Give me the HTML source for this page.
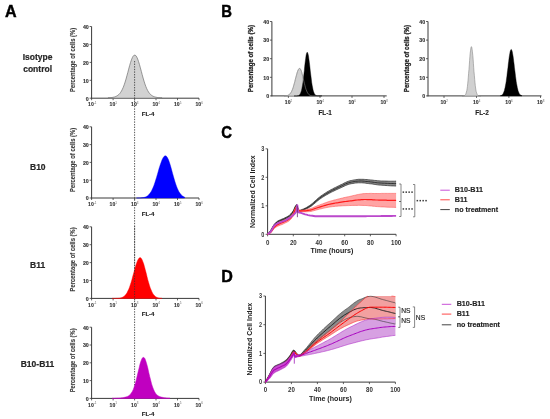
<!DOCTYPE html>
<html><head><meta charset="utf-8"><style>
html,body{margin:0;padding:0;background:#fff;width:550px;height:419px;overflow:hidden}
svg{display:block;will-change:transform}
text{font-family:"Liberation Sans", sans-serif}
</style></head><body>
<svg width="550" height="419" viewBox="0 0 550 419">
<rect x="0" y="0" width="550" height="419" fill="#fff"/>
<text transform="translate(5 17.4) scale(0.93 1)" font-size="17.3" font-weight="bold" fill="#000" stroke="#000" stroke-width="0.45">A</text>
<line x1="91.6" y1="26.5" x2="91.6" y2="98.6" stroke="#3a3a3a" stroke-width="1.0" />
<line x1="91.2" y1="98.2" x2="199" y2="98.2" stroke="#3a3a3a" stroke-width="1.0" />
<line x1="89.6" y1="98.2" x2="91.6" y2="98.2" stroke="#3a3a3a" stroke-width="0.8" />
<text x="88.8" y="100.5" font-size="5.3" font-weight="bold" text-anchor="end" fill="#333" stroke="#333" stroke-width="0.12">0</text>
<line x1="89.6" y1="80.3" x2="91.6" y2="80.3" stroke="#3a3a3a" stroke-width="0.8" />
<text x="88.8" y="82.6" font-size="5.3" font-weight="bold" text-anchor="end" fill="#333" stroke="#333" stroke-width="0.12">10</text>
<line x1="89.6" y1="62.4" x2="91.6" y2="62.4" stroke="#3a3a3a" stroke-width="0.8" />
<text x="88.8" y="64.7" font-size="5.3" font-weight="bold" text-anchor="end" fill="#333" stroke="#333" stroke-width="0.12">20</text>
<line x1="89.6" y1="44.4" x2="91.6" y2="44.4" stroke="#3a3a3a" stroke-width="0.8" />
<text x="88.8" y="46.7" font-size="5.3" font-weight="bold" text-anchor="end" fill="#333" stroke="#333" stroke-width="0.12">30</text>
<line x1="89.6" y1="26.5" x2="91.6" y2="26.5" stroke="#3a3a3a" stroke-width="0.8" />
<text x="88.8" y="28.8" font-size="5.3" font-weight="bold" text-anchor="end" fill="#333" stroke="#333" stroke-width="0.12">40</text>
<line x1="91.6" y1="98.2" x2="91.6" y2="100.2" stroke="#3a3a3a" stroke-width="0.8" />
<line x1="113.1" y1="98.2" x2="113.1" y2="100.2" stroke="#3a3a3a" stroke-width="0.8" />
<line x1="134.6" y1="98.2" x2="134.6" y2="100.2" stroke="#3a3a3a" stroke-width="0.8" />
<line x1="156" y1="98.2" x2="156" y2="100.2" stroke="#3a3a3a" stroke-width="0.8" />
<line x1="177.5" y1="98.2" x2="177.5" y2="100.2" stroke="#3a3a3a" stroke-width="0.8" />
<line x1="199" y1="98.2" x2="199" y2="100.2" stroke="#3a3a3a" stroke-width="0.8" />
<text x="90.9" y="106.3" font-size="5.1" font-weight="bold" text-anchor="middle" fill="#333" stroke="#333" stroke-width="0.12">10</text>
<text x="93.8" y="104.1" font-size="3.0" fill="#666" >-1</text>
<text x="112.4" y="106.3" font-size="5.1" font-weight="bold" text-anchor="middle" fill="#333" stroke="#333" stroke-width="0.12">10</text>
<text x="115.3" y="104.1" font-size="3.0" fill="#666" >1</text>
<text x="133.9" y="106.3" font-size="5.1" font-weight="bold" text-anchor="middle" fill="#333" stroke="#333" stroke-width="0.12">10</text>
<text x="136.8" y="104.1" font-size="3.0" fill="#666" >3</text>
<text x="155.3" y="106.3" font-size="5.1" font-weight="bold" text-anchor="middle" fill="#333" stroke="#333" stroke-width="0.12">10</text>
<text x="158.2" y="104.1" font-size="3.0" fill="#666" >4</text>
<text x="176.8" y="106.3" font-size="5.1" font-weight="bold" text-anchor="middle" fill="#333" stroke="#333" stroke-width="0.12">10</text>
<text x="179.7" y="104.1" font-size="3.0" fill="#666" >5</text>
<text x="198.3" y="106.3" font-size="5.1" font-weight="bold" text-anchor="middle" fill="#333" stroke="#333" stroke-width="0.12">10</text>
<text x="201.2" y="104.1" font-size="3.0" fill="#666" >6</text>
<text x="148.1" y="116.2" font-size="6.05" font-weight="bold" text-anchor="middle" fill="#222" stroke="#222" stroke-width="0.12">FL-4</text>
<text transform="translate(75.3 59.9) rotate(-90) scale(0.89 1)" font-size="6.573033707865168" font-weight="bold" text-anchor="middle" fill="#3c3c3c" stroke="#3c3c3c" stroke-width="0.12">Percentage of cells (%)</text>
<line x1="91.6" y1="126.8" x2="91.6" y2="198.4" stroke="#3a3a3a" stroke-width="1.0" />
<line x1="91.2" y1="198" x2="199" y2="198" stroke="#3a3a3a" stroke-width="1.0" />
<line x1="89.6" y1="198" x2="91.6" y2="198" stroke="#3a3a3a" stroke-width="0.8" />
<text x="88.8" y="200.3" font-size="5.3" font-weight="bold" text-anchor="end" fill="#333" stroke="#333" stroke-width="0.12">0</text>
<line x1="89.6" y1="180.2" x2="91.6" y2="180.2" stroke="#3a3a3a" stroke-width="0.8" />
<text x="88.8" y="182.5" font-size="5.3" font-weight="bold" text-anchor="end" fill="#333" stroke="#333" stroke-width="0.12">10</text>
<line x1="89.6" y1="162.4" x2="91.6" y2="162.4" stroke="#3a3a3a" stroke-width="0.8" />
<text x="88.8" y="164.7" font-size="5.3" font-weight="bold" text-anchor="end" fill="#333" stroke="#333" stroke-width="0.12">20</text>
<line x1="89.6" y1="144.6" x2="91.6" y2="144.6" stroke="#3a3a3a" stroke-width="0.8" />
<text x="88.8" y="146.9" font-size="5.3" font-weight="bold" text-anchor="end" fill="#333" stroke="#333" stroke-width="0.12">30</text>
<line x1="89.6" y1="126.8" x2="91.6" y2="126.8" stroke="#3a3a3a" stroke-width="0.8" />
<text x="88.8" y="129.1" font-size="5.3" font-weight="bold" text-anchor="end" fill="#333" stroke="#333" stroke-width="0.12">40</text>
<line x1="91.6" y1="198" x2="91.6" y2="200" stroke="#3a3a3a" stroke-width="0.8" />
<line x1="113.1" y1="198" x2="113.1" y2="200" stroke="#3a3a3a" stroke-width="0.8" />
<line x1="134.6" y1="198" x2="134.6" y2="200" stroke="#3a3a3a" stroke-width="0.8" />
<line x1="156" y1="198" x2="156" y2="200" stroke="#3a3a3a" stroke-width="0.8" />
<line x1="177.5" y1="198" x2="177.5" y2="200" stroke="#3a3a3a" stroke-width="0.8" />
<line x1="199" y1="198" x2="199" y2="200" stroke="#3a3a3a" stroke-width="0.8" />
<text x="90.9" y="206.1" font-size="5.1" font-weight="bold" text-anchor="middle" fill="#333" stroke="#333" stroke-width="0.12">10</text>
<text x="93.8" y="203.9" font-size="3.0" fill="#666" >-1</text>
<text x="112.4" y="206.1" font-size="5.1" font-weight="bold" text-anchor="middle" fill="#333" stroke="#333" stroke-width="0.12">10</text>
<text x="115.3" y="203.9" font-size="3.0" fill="#666" >1</text>
<text x="133.9" y="206.1" font-size="5.1" font-weight="bold" text-anchor="middle" fill="#333" stroke="#333" stroke-width="0.12">10</text>
<text x="136.8" y="203.9" font-size="3.0" fill="#666" >3</text>
<text x="155.3" y="206.1" font-size="5.1" font-weight="bold" text-anchor="middle" fill="#333" stroke="#333" stroke-width="0.12">10</text>
<text x="158.2" y="203.9" font-size="3.0" fill="#666" >4</text>
<text x="176.8" y="206.1" font-size="5.1" font-weight="bold" text-anchor="middle" fill="#333" stroke="#333" stroke-width="0.12">10</text>
<text x="179.7" y="203.9" font-size="3.0" fill="#666" >5</text>
<text x="198.3" y="206.1" font-size="5.1" font-weight="bold" text-anchor="middle" fill="#333" stroke="#333" stroke-width="0.12">10</text>
<text x="201.2" y="203.9" font-size="3.0" fill="#666" >6</text>
<text x="148.1" y="216" font-size="6.05" font-weight="bold" text-anchor="middle" fill="#222" stroke="#222" stroke-width="0.12">FL-4</text>
<text transform="translate(75.3 159.9) rotate(-90) scale(0.89 1)" font-size="6.573033707865168" font-weight="bold" text-anchor="middle" fill="#3c3c3c" stroke="#3c3c3c" stroke-width="0.12">Percentage of cells (%)</text>
<line x1="91.6" y1="226.8" x2="91.6" y2="298.8" stroke="#3a3a3a" stroke-width="1.0" />
<line x1="91.2" y1="298.4" x2="199" y2="298.4" stroke="#3a3a3a" stroke-width="1.0" />
<line x1="89.6" y1="298.4" x2="91.6" y2="298.4" stroke="#3a3a3a" stroke-width="0.8" />
<text x="88.8" y="300.7" font-size="5.3" font-weight="bold" text-anchor="end" fill="#333" stroke="#333" stroke-width="0.12">0</text>
<line x1="89.6" y1="280.5" x2="91.6" y2="280.5" stroke="#3a3a3a" stroke-width="0.8" />
<text x="88.8" y="282.8" font-size="5.3" font-weight="bold" text-anchor="end" fill="#333" stroke="#333" stroke-width="0.12">10</text>
<line x1="89.6" y1="262.6" x2="91.6" y2="262.6" stroke="#3a3a3a" stroke-width="0.8" />
<text x="88.8" y="264.9" font-size="5.3" font-weight="bold" text-anchor="end" fill="#333" stroke="#333" stroke-width="0.12">20</text>
<line x1="89.6" y1="244.7" x2="91.6" y2="244.7" stroke="#3a3a3a" stroke-width="0.8" />
<text x="88.8" y="247" font-size="5.3" font-weight="bold" text-anchor="end" fill="#333" stroke="#333" stroke-width="0.12">30</text>
<line x1="89.6" y1="226.8" x2="91.6" y2="226.8" stroke="#3a3a3a" stroke-width="0.8" />
<text x="88.8" y="229.1" font-size="5.3" font-weight="bold" text-anchor="end" fill="#333" stroke="#333" stroke-width="0.12">40</text>
<line x1="91.6" y1="298.4" x2="91.6" y2="300.4" stroke="#3a3a3a" stroke-width="0.8" />
<line x1="113.1" y1="298.4" x2="113.1" y2="300.4" stroke="#3a3a3a" stroke-width="0.8" />
<line x1="134.6" y1="298.4" x2="134.6" y2="300.4" stroke="#3a3a3a" stroke-width="0.8" />
<line x1="156" y1="298.4" x2="156" y2="300.4" stroke="#3a3a3a" stroke-width="0.8" />
<line x1="177.5" y1="298.4" x2="177.5" y2="300.4" stroke="#3a3a3a" stroke-width="0.8" />
<line x1="199" y1="298.4" x2="199" y2="300.4" stroke="#3a3a3a" stroke-width="0.8" />
<text x="90.9" y="306.5" font-size="5.1" font-weight="bold" text-anchor="middle" fill="#333" stroke="#333" stroke-width="0.12">10</text>
<text x="93.8" y="304.3" font-size="3.0" fill="#666" >-1</text>
<text x="112.4" y="306.5" font-size="5.1" font-weight="bold" text-anchor="middle" fill="#333" stroke="#333" stroke-width="0.12">10</text>
<text x="115.3" y="304.3" font-size="3.0" fill="#666" >1</text>
<text x="133.9" y="306.5" font-size="5.1" font-weight="bold" text-anchor="middle" fill="#333" stroke="#333" stroke-width="0.12">10</text>
<text x="136.8" y="304.3" font-size="3.0" fill="#666" >3</text>
<text x="155.3" y="306.5" font-size="5.1" font-weight="bold" text-anchor="middle" fill="#333" stroke="#333" stroke-width="0.12">10</text>
<text x="158.2" y="304.3" font-size="3.0" fill="#666" >4</text>
<text x="176.8" y="306.5" font-size="5.1" font-weight="bold" text-anchor="middle" fill="#333" stroke="#333" stroke-width="0.12">10</text>
<text x="179.7" y="304.3" font-size="3.0" fill="#666" >5</text>
<text x="198.3" y="306.5" font-size="5.1" font-weight="bold" text-anchor="middle" fill="#333" stroke="#333" stroke-width="0.12">10</text>
<text x="201.2" y="304.3" font-size="3.0" fill="#666" >6</text>
<text x="148.1" y="316.4" font-size="6.05" font-weight="bold" text-anchor="middle" fill="#222" stroke="#222" stroke-width="0.12">FL-4</text>
<text transform="translate(75.3 259.4) rotate(-90) scale(0.89 1)" font-size="6.573033707865168" font-weight="bold" text-anchor="middle" fill="#3c3c3c" stroke="#3c3c3c" stroke-width="0.12">Percentage of cells (%)</text>
<line x1="91.6" y1="327.2" x2="91.6" y2="398.8" stroke="#3a3a3a" stroke-width="1.0" />
<line x1="91.2" y1="398.4" x2="199" y2="398.4" stroke="#3a3a3a" stroke-width="1.0" />
<line x1="89.6" y1="398.4" x2="91.6" y2="398.4" stroke="#3a3a3a" stroke-width="0.8" />
<text x="88.8" y="400.7" font-size="5.3" font-weight="bold" text-anchor="end" fill="#333" stroke="#333" stroke-width="0.12">0</text>
<line x1="89.6" y1="380.6" x2="91.6" y2="380.6" stroke="#3a3a3a" stroke-width="0.8" />
<text x="88.8" y="382.9" font-size="5.3" font-weight="bold" text-anchor="end" fill="#333" stroke="#333" stroke-width="0.12">10</text>
<line x1="89.6" y1="362.8" x2="91.6" y2="362.8" stroke="#3a3a3a" stroke-width="0.8" />
<text x="88.8" y="365.1" font-size="5.3" font-weight="bold" text-anchor="end" fill="#333" stroke="#333" stroke-width="0.12">20</text>
<line x1="89.6" y1="345" x2="91.6" y2="345" stroke="#3a3a3a" stroke-width="0.8" />
<text x="88.8" y="347.3" font-size="5.3" font-weight="bold" text-anchor="end" fill="#333" stroke="#333" stroke-width="0.12">30</text>
<line x1="89.6" y1="327.2" x2="91.6" y2="327.2" stroke="#3a3a3a" stroke-width="0.8" />
<text x="88.8" y="329.5" font-size="5.3" font-weight="bold" text-anchor="end" fill="#333" stroke="#333" stroke-width="0.12">40</text>
<line x1="91.6" y1="398.4" x2="91.6" y2="400.4" stroke="#3a3a3a" stroke-width="0.8" />
<line x1="113.1" y1="398.4" x2="113.1" y2="400.4" stroke="#3a3a3a" stroke-width="0.8" />
<line x1="134.6" y1="398.4" x2="134.6" y2="400.4" stroke="#3a3a3a" stroke-width="0.8" />
<line x1="156" y1="398.4" x2="156" y2="400.4" stroke="#3a3a3a" stroke-width="0.8" />
<line x1="177.5" y1="398.4" x2="177.5" y2="400.4" stroke="#3a3a3a" stroke-width="0.8" />
<line x1="199" y1="398.4" x2="199" y2="400.4" stroke="#3a3a3a" stroke-width="0.8" />
<text x="90.9" y="406.5" font-size="5.1" font-weight="bold" text-anchor="middle" fill="#333" stroke="#333" stroke-width="0.12">10</text>
<text x="93.8" y="404.3" font-size="3.0" fill="#666" >-1</text>
<text x="112.4" y="406.5" font-size="5.1" font-weight="bold" text-anchor="middle" fill="#333" stroke="#333" stroke-width="0.12">10</text>
<text x="115.3" y="404.3" font-size="3.0" fill="#666" >1</text>
<text x="133.9" y="406.5" font-size="5.1" font-weight="bold" text-anchor="middle" fill="#333" stroke="#333" stroke-width="0.12">10</text>
<text x="136.8" y="404.3" font-size="3.0" fill="#666" >3</text>
<text x="155.3" y="406.5" font-size="5.1" font-weight="bold" text-anchor="middle" fill="#333" stroke="#333" stroke-width="0.12">10</text>
<text x="158.2" y="404.3" font-size="3.0" fill="#666" >4</text>
<text x="176.8" y="406.5" font-size="5.1" font-weight="bold" text-anchor="middle" fill="#333" stroke="#333" stroke-width="0.12">10</text>
<text x="179.7" y="404.3" font-size="3.0" fill="#666" >5</text>
<text x="198.3" y="406.5" font-size="5.1" font-weight="bold" text-anchor="middle" fill="#333" stroke="#333" stroke-width="0.12">10</text>
<text x="201.2" y="404.3" font-size="3.0" fill="#666" >6</text>
<text x="148.1" y="416.4" font-size="6.05" font-weight="bold" text-anchor="middle" fill="#222" stroke="#222" stroke-width="0.12">FL-4</text>
<text transform="translate(75.3 360.3) rotate(-90) scale(0.89 1)" font-size="6.573033707865168" font-weight="bold" text-anchor="middle" fill="#3c3c3c" stroke="#3c3c3c" stroke-width="0.12">Percentage of cells (%)</text>
<text x="37.6" y="60" font-size="8.5" font-weight="bold" text-anchor="middle" fill="#262626" stroke="#262626" stroke-width="0.2">Isotype</text>
<text x="37.6" y="71.6" font-size="8.5" font-weight="bold" text-anchor="middle" fill="#262626" stroke="#262626" stroke-width="0.2">control</text>
<text x="37.8" y="169.6" font-size="8.5" font-weight="bold" text-anchor="middle" fill="#262626" stroke="#262626" stroke-width="0.2">B10</text>
<text x="37.6" y="268" font-size="8.5" font-weight="bold" text-anchor="middle" fill="#262626" stroke="#262626" stroke-width="0.2">B11</text>
<text x="37.5" y="366.9" font-size="8.5" font-weight="bold" text-anchor="middle" fill="#262626" stroke="#262626" stroke-width="0.2">B10-B11</text>
<path d="M108,97.9 108.9,97.8 109.8,97.7 110.7,97.6 111.6,97.5 112.5,97.4 113.4,97.2 114.3,97 115.2,96.7 116.1,96.3 117,95.9 117.9,95.3 118.8,94.5 119.7,93.6 120.6,92.4 121.5,91 122.4,89.2 123.3,87.2 124.2,84.8 125.1,82.1 126,79.1 126.9,75.8 127.8,72.5 128.7,69.1 129.6,65.7 130.5,62.6 131.4,59.9 132.3,57.7 133.2,56.1 134.1,55.2 135,55.1 135.9,55.7 136.8,57.1 137.7,59.1 138.6,61.7 139.5,64.7 140.4,67.9 141.3,71.3 142.2,74.7 143.1,78 144,81.1 144.9,83.9 145.8,86.4 146.7,88.6 147.6,90.4 148.5,92 149.4,93.2 150.3,94.2 151.2,95.1 152.1,95.7 153,96.2 153.9,96.6 154.8,96.9 155.7,97.1 156.6,97.3 157.5,97.5 158.4,97.6 159.3,97.7 160.2,97.8 161.1,97.9 162,97.9 L162,98.2 L108,98.2 Z" fill="#d2d2d2" stroke="#707070" stroke-width="0.7"/>
<line x1="134.6" y1="61" x2="134.6" y2="98" stroke="#444" stroke-width="0.9" stroke-dasharray="1.4 1.2"/>
<line x1="134.6" y1="98" x2="134.6" y2="398" stroke="#505050" stroke-width="0.95" stroke-dasharray="1.4 1.2"/>
<path d="M136.5,198 137.3,198 138.1,198 138.9,197.9 139.7,197.9 140.5,197.9 141.3,197.8 142.1,197.7 142.9,197.6 143.7,197.5 144.5,197.3 145.3,197 146.1,196.7 146.9,196.2 147.7,195.7 148.5,195 149.3,194.1 150.1,193.1 150.9,191.9 151.7,190.5 152.5,188.8 153.3,187 154.1,184.9 154.9,182.6 155.7,180.1 156.5,177.4 157.3,174.7 158.1,171.9 158.9,169.1 159.7,166.4 160.6,163.8 161.4,161.5 162.2,159.5 163,157.9 163.8,156.7 164.6,156 165.4,155.8 166.2,156.1 167,156.9 167.8,158.3 168.6,160.1 169.4,162.3 170.2,164.8 171,167.6 171.8,170.5 172.6,173.4 173.4,176.3 174.2,179.1 175,181.8 175.8,184.2 176.6,186.5 177.4,188.5 178.2,190.2 179,191.8 179.8,193 180.6,194.1 181.4,195 182.2,195.7 183,196.3 183.8,196.7 184.6,197.1 L184.6,198 L136.5,198 Z" fill="#0000ff" stroke="#0000ee" stroke-width="0.4"/>
<path d="M112,298.4 112.8,298.4 113.7,298.4 114.5,298.4 115.3,298.4 116.2,298.3 117,298.3 117.8,298.3 118.7,298.2 119.5,298.1 120.3,297.9 121.2,297.7 122,297.5 122.8,297.1 123.7,296.6 124.5,295.9 125.3,295.1 126.2,294 127,292.7 127.8,291.1 128.7,289.3 129.5,287.2 130.3,284.7 131.2,282.1 132,279.2 132.8,276.1 133.7,273 134.5,269.9 135.3,267 136.2,264.2 137,261.9 137.8,259.9 138.7,258.5 139.5,257.8 140.3,257.6 141.2,258.2 142,259.5 142.8,261.4 143.7,263.8 144.5,266.7 145.3,269.8 146.2,273.1 147,276.4 147.8,279.7 148.7,282.7 149.5,285.5 150.3,287.9 151.2,290.1 152,291.9 152.8,293.4 153.7,294.7 154.5,295.6 155.3,296.4 156.2,297 157,297.4 157.8,297.7 158.7,297.9 159.5,298.1 160.3,298.2 161.2,298.3 162,298.3 L162,298.4 L112,298.4 Z" fill="#ff0000" stroke="#ff0000" stroke-width="0.4"/>
<line x1="134.6" y1="226" x2="134.6" y2="298" stroke="#333" stroke-width="0.9" stroke-dasharray="1.4 1.2" stroke-opacity="0.8"/>
<path d="M112,398.3 113,398.3 113.9,398.3 114.9,398.3 115.9,398.2 116.8,398.2 117.8,398.1 118.8,398.1 119.7,398 120.7,397.9 121.7,397.8 122.6,397.7 123.6,397.5 124.6,397.3 125.5,397.1 126.5,396.8 127.5,396.4 128.4,395.9 129.4,395.2 130.4,394.3 131.3,393.1 132.3,391.5 133.3,389.4 134.2,386.9 135.2,383.8 136.2,380.2 137.1,376.2 138.1,372.1 139.1,367.9 140,364.1 141,360.9 142,358.6 142.9,357.4 143.9,357.4 144.9,358.6 145.8,361 146.8,364.2 147.8,368.1 148.7,372.2 149.7,376.4 150.7,380.3 151.6,383.9 152.6,387 153.6,389.5 154.5,391.6 155.5,393.2 156.5,394.4 157.4,395.3 158.4,395.9 159.4,396.4 160.3,396.8 161.3,397.1 162.3,397.3 163.2,397.5 164.2,397.7 165.2,397.8 166.1,397.9 167.1,398 168.1,398.1 169,398.1 170,398.2 L170,398.4 L112,398.4 Z" fill="#c000c0" stroke="#c000c0" stroke-width="0.5"/>
<text transform="translate(221.3 17.1) scale(0.86 1)" font-size="17.3" font-weight="bold" fill="#000" stroke="#000" stroke-width="0.45">B</text>
<line x1="271.9" y1="21.5" x2="271.9" y2="96.3" stroke="#3a3a3a" stroke-width="1.0" />
<line x1="271.5" y1="95.9" x2="386.7" y2="95.9" stroke="#3a3a3a" stroke-width="1.0" />
<line x1="269.9" y1="95.9" x2="271.9" y2="95.9" stroke="#3a3a3a" stroke-width="0.8" />
<text x="269.1" y="98.2" font-size="5.3" font-weight="bold" text-anchor="end" fill="#333" stroke="#333" stroke-width="0.12">0</text>
<line x1="269.9" y1="77.3" x2="271.9" y2="77.3" stroke="#3a3a3a" stroke-width="0.8" />
<text x="269.1" y="79.6" font-size="5.3" font-weight="bold" text-anchor="end" fill="#333" stroke="#333" stroke-width="0.12">10</text>
<line x1="269.9" y1="58.7" x2="271.9" y2="58.7" stroke="#3a3a3a" stroke-width="0.8" />
<text x="269.1" y="61" font-size="5.3" font-weight="bold" text-anchor="end" fill="#333" stroke="#333" stroke-width="0.12">20</text>
<line x1="269.9" y1="40.1" x2="271.9" y2="40.1" stroke="#3a3a3a" stroke-width="0.8" />
<text x="269.1" y="42.4" font-size="5.3" font-weight="bold" text-anchor="end" fill="#333" stroke="#333" stroke-width="0.12">30</text>
<line x1="269.9" y1="21.5" x2="271.9" y2="21.5" stroke="#3a3a3a" stroke-width="0.8" />
<text x="269.1" y="23.8" font-size="5.3" font-weight="bold" text-anchor="end" fill="#333" stroke="#333" stroke-width="0.12">40</text>
<line x1="288.4" y1="95.9" x2="288.4" y2="97.9" stroke="#3a3a3a" stroke-width="0.8" />
<line x1="320" y1="95.9" x2="320" y2="97.9" stroke="#3a3a3a" stroke-width="0.8" />
<line x1="352" y1="95.9" x2="352" y2="97.9" stroke="#3a3a3a" stroke-width="0.8" />
<line x1="384" y1="95.9" x2="384" y2="97.9" stroke="#3a3a3a" stroke-width="0.8" />
<text x="287.7" y="104" font-size="5.1" font-weight="bold" text-anchor="middle" fill="#333" stroke="#333" stroke-width="0.12">10</text>
<text x="290.6" y="101.8" font-size="3.0" fill="#666" >2</text>
<text x="319.3" y="104" font-size="5.1" font-weight="bold" text-anchor="middle" fill="#333" stroke="#333" stroke-width="0.12">10</text>
<text x="322.2" y="101.8" font-size="3.0" fill="#666" >4</text>
<text x="351.3" y="104" font-size="5.1" font-weight="bold" text-anchor="middle" fill="#333" stroke="#333" stroke-width="0.12">10</text>
<text x="354.2" y="101.8" font-size="3.0" fill="#666" >6</text>
<text x="383.3" y="104" font-size="5.1" font-weight="bold" text-anchor="middle" fill="#333" stroke="#333" stroke-width="0.12">10</text>
<text x="386.2" y="101.8" font-size="3.0" fill="#666" >8</text>
<text x="325.2" y="114.9" font-size="6.4" font-weight="bold" text-anchor="middle" fill="#222" stroke="#222" stroke-width="0.12">FL-1</text>
<text transform="translate(253 58.6) rotate(-90) scale(0.89 1)" font-size="6.9101123595505625" font-weight="bold" text-anchor="middle" fill="#222" stroke="#222" stroke-width="0.28">Percentage of cells (%)</text>
<path d="M284,95.9 284.6,95.9 285.1,95.8 285.7,95.8 286.3,95.7 286.8,95.6 287.4,95.5 288,95.3 288.5,95 289.1,94.7 289.7,94.2 290.2,93.6 290.8,92.8 291.4,91.9 291.9,90.7 292.5,89.3 293.1,87.7 293.6,85.9 294.2,83.9 294.8,81.7 295.3,79.5 295.9,77.2 296.5,75.1 297,73.1 297.6,71.3 298.2,69.9 298.7,69 299.3,68.4 299.9,68.4 300.4,69 301,70.2 301.6,71.8 302.1,73.9 302.7,76.2 303.3,78.6 303.8,81.1 304.4,83.5 305,85.7 305.5,87.8 306.1,89.5 306.7,91 307.2,92.2 307.8,93.2 308.4,94 308.9,94.6 309.5,95 310.1,95.3 310.6,95.5 311.2,95.6 311.8,95.7 312.3,95.8 312.9,95.8 313.5,95.9 314,95.9 314.6,95.9 315.2,95.9 315.7,95.9 316.3,95.9 316.9,95.9 317.4,95.9 318,95.9 L318,95.9 L284,95.9 Z" fill="#d0d0d0" stroke="#888" stroke-width="0.6"/>
<path d="M294,95.9 294.5,95.9 294.9,95.9 295.4,95.9 295.9,95.9 296.3,95.9 296.8,95.9 297.3,95.8 297.7,95.8 298.2,95.7 298.7,95.5 299.1,95.2 299.6,94.8 300.1,94.2 300.5,93.3 301,92.1 301.5,90.5 301.9,88.4 302.4,85.8 302.9,82.7 303.3,79.1 303.8,75 304.3,70.7 304.7,66.2 305.2,62 305.7,58.3 306.1,55.2 306.6,53.2 307.1,52.2 307.5,52.5 308,53.8 308.5,56 308.9,59.1 309.4,62.8 309.9,66.9 310.3,71 310.8,75.1 311.3,79 311.7,82.5 312.2,85.5 312.7,88 313.1,90.1 313.6,91.7 314.1,93 314.5,93.9 315,94.6 315.5,95 315.9,95.4 316.4,95.6 316.9,95.7 317.3,95.8 317.8,95.8 318.3,95.9 318.7,95.9 319.2,95.9 319.7,95.9 320.1,95.9 320.6,95.9 321.1,95.9 321.5,95.9 322,95.9 L322,95.9 L294,95.9 Z" fill="#000" stroke="#000" stroke-width="0.4"/>
<path d="M284,95.9 284.6,95.9 285.1,95.8 285.7,95.8 286.3,95.7 286.8,95.6 287.4,95.5 288,95.3 288.5,95 289.1,94.7 289.7,94.2 290.2,93.6 290.8,92.8 291.4,91.9 291.9,90.7 292.5,89.3 293.1,87.7 293.6,85.9 294.2,83.9 294.8,81.7 295.3,79.5 295.9,77.2 296.5,75.1 297,73.1 297.6,71.3 298.2,69.9 298.7,69 299.3,68.4 299.9,68.4 300.4,69 301,70.2 301.6,71.8 302.1,73.9 302.7,76.2 303.3,78.6 303.8,81.1 304.4,83.5 305,85.7 305.5,87.8 306.1,89.5 306.7,91 307.2,92.2 307.8,93.2 308.4,94 308.9,94.6 309.5,95 310.1,95.3 310.6,95.5 311.2,95.6 311.8,95.7 312.3,95.8 312.9,95.8 313.5,95.9 314,95.9 314.6,95.9 315.2,95.9 315.7,95.9 316.3,95.9 316.9,95.9 317.4,95.9 318,95.9" fill="none" stroke="#9a9a9a" stroke-width="0.5"/>
<line x1="428" y1="21.5" x2="428" y2="96.3" stroke="#3a3a3a" stroke-width="1.0" />
<line x1="427.6" y1="95.9" x2="541.5" y2="95.9" stroke="#3a3a3a" stroke-width="1.0" />
<line x1="426" y1="95.9" x2="428" y2="95.9" stroke="#3a3a3a" stroke-width="0.8" />
<text x="425.2" y="98.2" font-size="5.3" font-weight="bold" text-anchor="end" fill="#333" stroke="#333" stroke-width="0.12">0</text>
<line x1="426" y1="77.3" x2="428" y2="77.3" stroke="#3a3a3a" stroke-width="0.8" />
<text x="425.2" y="79.6" font-size="5.3" font-weight="bold" text-anchor="end" fill="#333" stroke="#333" stroke-width="0.12">10</text>
<line x1="426" y1="58.7" x2="428" y2="58.7" stroke="#3a3a3a" stroke-width="0.8" />
<text x="425.2" y="61" font-size="5.3" font-weight="bold" text-anchor="end" fill="#333" stroke="#333" stroke-width="0.12">20</text>
<line x1="426" y1="40.1" x2="428" y2="40.1" stroke="#3a3a3a" stroke-width="0.8" />
<text x="425.2" y="42.4" font-size="5.3" font-weight="bold" text-anchor="end" fill="#333" stroke="#333" stroke-width="0.12">30</text>
<line x1="426" y1="21.5" x2="428" y2="21.5" stroke="#3a3a3a" stroke-width="0.8" />
<text x="425.2" y="23.8" font-size="5.3" font-weight="bold" text-anchor="end" fill="#333" stroke="#333" stroke-width="0.12">40</text>
<line x1="444" y1="95.9" x2="444" y2="97.9" stroke="#3a3a3a" stroke-width="0.8" />
<line x1="476.5" y1="95.9" x2="476.5" y2="97.9" stroke="#3a3a3a" stroke-width="0.8" />
<line x1="508.9" y1="95.9" x2="508.9" y2="97.9" stroke="#3a3a3a" stroke-width="0.8" />
<line x1="540.5" y1="95.9" x2="540.5" y2="97.9" stroke="#3a3a3a" stroke-width="0.8" />
<text x="443.3" y="104" font-size="5.1" font-weight="bold" text-anchor="middle" fill="#333" stroke="#333" stroke-width="0.12">10</text>
<text x="446.2" y="101.8" font-size="3.0" fill="#666" >2</text>
<text x="475.8" y="104" font-size="5.1" font-weight="bold" text-anchor="middle" fill="#333" stroke="#333" stroke-width="0.12">10</text>
<text x="478.7" y="101.8" font-size="3.0" fill="#666" >4</text>
<text x="508.2" y="104" font-size="5.1" font-weight="bold" text-anchor="middle" fill="#333" stroke="#333" stroke-width="0.12">10</text>
<text x="511.1" y="101.8" font-size="3.0" fill="#666" >6</text>
<text x="539.8" y="104" font-size="5.1" font-weight="bold" text-anchor="middle" fill="#333" stroke="#333" stroke-width="0.12">10</text>
<text x="542.7" y="101.8" font-size="3.0" fill="#666" >8</text>
<text x="482" y="114.9" font-size="6.4" font-weight="bold" text-anchor="middle" fill="#222" stroke="#222" stroke-width="0.12">FL-2</text>
<text transform="translate(409.2 58.6) rotate(-90) scale(0.89 1)" font-size="6.9101123595505625" font-weight="bold" text-anchor="middle" fill="#222" stroke="#222" stroke-width="0.28">Percentage of cells (%)</text>
<path d="M462,95.9 462.3,95.9 462.6,95.9 462.9,95.9 463.3,95.8 463.6,95.8 463.9,95.8 464.2,95.7 464.5,95.5 464.9,95.3 465.2,95 465.5,94.6 465.8,94 466.1,93.1 466.4,92 466.8,90.6 467.1,88.8 467.4,86.6 467.7,83.9 468,80.8 468.3,77.2 468.6,73.3 469,69.2 469.3,64.9 469.6,60.6 469.9,56.6 470.2,53.1 470.6,50.2 470.9,48 471.2,46.8 471.5,46.7 471.8,47.5 472.1,49.3 472.4,51.9 472.8,55.3 473.1,59.1 473.4,63.3 473.7,67.6 474,71.8 474.4,75.8 474.7,79.5 475,82.8 475.3,85.7 475.6,88 475.9,90 476.2,91.6 476.6,92.8 476.9,93.7 477.2,94.4 477.5,94.9 477.8,95.2 478.1,95.5 478.5,95.6 478.8,95.7 479.1,95.8 479.4,95.8 479.7,95.9 480.1,95.9 480.4,95.9 480.7,95.9 481,95.9 L481,95.9 L462,95.9 Z" fill="#d0d0d0" stroke="#888" stroke-width="0.6"/>
<path d="M500.4,95.7 500.8,95.6 501.1,95.5 501.5,95.3 501.8,95.1 502.2,94.8 502.6,94.4 502.9,93.9 503.3,93.3 503.6,92.5 504,91.6 504.4,90.5 504.7,89.1 505.1,87.6 505.4,85.8 505.8,83.7 506.2,81.4 506.5,78.9 506.9,76.2 507.2,73.3 507.6,70.3 508,67.2 508.3,64.1 508.7,61.2 509,58.4 509.4,55.8 509.8,53.6 510.1,51.8 510.5,50.5 510.8,49.7 511.2,49.4 511.6,49.7 511.9,50.5 512.3,51.8 512.6,53.6 513,55.8 513.4,58.4 513.7,61.2 514.1,64.1 514.4,67.2 514.8,70.3 515.2,73.3 515.5,76.2 515.9,78.9 516.2,81.4 516.6,83.7 517,85.8 517.3,87.6 517.7,89.1 518,90.5 518.4,91.6 518.8,92.5 519.1,93.3 519.5,93.9 519.8,94.4 520.2,94.8 520.6,95.1 520.9,95.3 521.3,95.5 521.6,95.6 522,95.7 L522,95.9 L500.4,95.9 Z" fill="#000" stroke="#000" stroke-width="0.4"/>
<text transform="translate(221.3 138.3) scale(0.86 1)" font-size="17.3" font-weight="bold" fill="#000" stroke="#000" stroke-width="0.45">C</text>
<line x1="267.6" y1="148.8" x2="267.6" y2="234.7" stroke="#3a3a3a" stroke-width="1.0" />
<line x1="267.2" y1="234.3" x2="396.1" y2="234.3" stroke="#3a3a3a" stroke-width="1.0" />
<line x1="265.6" y1="234.3" x2="267.6" y2="234.3" stroke="#3a3a3a" stroke-width="0.8" />
<text transform="translate(264.3 236.6) scale(0.85 1)" font-size="6.5" font-weight="bold" text-anchor="end" fill="#333" >0</text>
<line x1="265.6" y1="205.8" x2="267.6" y2="205.8" stroke="#3a3a3a" stroke-width="0.8" />
<text transform="translate(264.3 208.1) scale(0.85 1)" font-size="6.5" font-weight="bold" text-anchor="end" fill="#333" >1</text>
<line x1="265.6" y1="177.3" x2="267.6" y2="177.3" stroke="#3a3a3a" stroke-width="0.8" />
<text transform="translate(264.3 179.6) scale(0.85 1)" font-size="6.5" font-weight="bold" text-anchor="end" fill="#333" >2</text>
<line x1="265.6" y1="148.8" x2="267.6" y2="148.8" stroke="#3a3a3a" stroke-width="0.8" />
<text transform="translate(264.3 151.1) scale(0.85 1)" font-size="6.5" font-weight="bold" text-anchor="end" fill="#333" >3</text>
<line x1="267.6" y1="234.3" x2="267.6" y2="236.3" stroke="#3a3a3a" stroke-width="0.8" />
<text transform="translate(267.6 244.6) scale(0.93 1)" font-size="6.6" font-weight="bold" text-anchor="middle" fill="#333" >0</text>
<line x1="293.3" y1="234.3" x2="293.3" y2="236.3" stroke="#3a3a3a" stroke-width="0.8" />
<text transform="translate(293.3 244.6) scale(0.93 1)" font-size="6.6" font-weight="bold" text-anchor="middle" fill="#333" >20</text>
<line x1="319" y1="234.3" x2="319" y2="236.3" stroke="#3a3a3a" stroke-width="0.8" />
<text transform="translate(319 244.6) scale(0.93 1)" font-size="6.6" font-weight="bold" text-anchor="middle" fill="#333" >40</text>
<line x1="344.7" y1="234.3" x2="344.7" y2="236.3" stroke="#3a3a3a" stroke-width="0.8" />
<text transform="translate(344.7 244.6) scale(0.93 1)" font-size="6.6" font-weight="bold" text-anchor="middle" fill="#333" >60</text>
<line x1="370.4" y1="234.3" x2="370.4" y2="236.3" stroke="#3a3a3a" stroke-width="0.8" />
<text transform="translate(370.4 244.6) scale(0.93 1)" font-size="6.6" font-weight="bold" text-anchor="middle" fill="#333" >80</text>
<line x1="396.1" y1="234.3" x2="396.1" y2="236.3" stroke="#3a3a3a" stroke-width="0.8" />
<text transform="translate(396.1 244.6) scale(0.93 1)" font-size="6.6" font-weight="bold" text-anchor="middle" fill="#333" >100</text>
<text x="331.9" y="252.7" font-size="7.1" font-weight="bold" text-anchor="middle" fill="#222" >Time (hours)</text>
<text transform="translate(254.6 191.6) rotate(-90)" font-size="7.0" font-weight="bold" text-anchor="middle" fill="#222" >Normalized Cell Index</text>
<path d="M267.6,234 269,232.5 270.5,230.6 270.8,230.1 271.9,228.2 273.4,225.6 274,224.6 274.8,223.6 276.3,222.1 277.2,221.4 277.7,221.1 279.2,220.3 280.6,219.7 282,219.1 283.5,218.5 284.3,218.1 284.9,217.8 286.4,217.1 287.8,216.3 289.3,215.4 289.4,215.2 290.7,214 292.1,212.3 293.3,210.6 293.6,210.2 295,206.7 296.5,204.4 296.6,204.4 297.9,207.9 299,210.4 299.4,210.3 300.8,210 302.3,209.4 303.6,208.9 303.7,208.8 305.1,208.2 306.6,207.4 308,206.5 309.5,205.6 310,205.2 310.9,204.6 312.4,203.4 313.8,202.1 315.2,200.8 316.7,199.5 318.1,198.2 319.6,197 320,196.7 321,195.9 322.5,194.9 323.9,194 325.4,193 326.8,192.1 328.2,191.3 329.7,190.4 330.1,190.2 331.1,189.6 332.6,188.9 334,188.1 335.5,187.4 336.9,186.7 338.3,186 339.8,185.3 339.9,185.2 341.2,184.6 342.7,183.9 344.1,183.1 345.6,182.4 347,181.8 348.5,181.2 349.8,180.8 349.9,180.8 351.3,180.5 352.8,180.2 354.2,179.9 355.7,179.7 357.1,179.5 358.6,179.3 360,179.3 360.1,179.3 361.4,179.3 362.9,179.3 364.3,179.4 365.8,179.5 367.2,179.6 368.7,179.8 370.1,179.9 370.4,179.9 371.6,180 373,180.2 374.4,180.4 375.9,180.5 377.3,180.7 378.8,180.8 380,180.9 380.2,180.9 381.7,181 383.1,181 384.5,181 386,181.1 387.4,181.1 388.9,181.2 390.3,181.2 391.8,181.2 393.2,181.2 394.7,181.2 396.1,181.1 396.1,186 394.7,186 393.2,185.9 391.8,185.9 390.3,185.8 388.9,185.7 387.4,185.6 386,185.5 384.5,185.4 383.1,185.3 381.7,185.2 380.2,185.1 380,185.1 378.8,185 377.3,184.8 375.9,184.6 374.4,184.4 373,184.1 371.6,183.9 370.4,183.8 370.1,183.8 368.7,183.6 367.2,183.4 365.8,183.2 364.3,183 362.9,182.9 361.4,182.8 360.1,182.8 360,182.8 358.6,182.8 357.1,182.9 355.7,183 354.2,183.2 352.8,183.5 351.3,183.7 349.9,184 349.8,184 348.5,184.4 347,184.9 345.6,185.5 344.1,186.2 342.7,186.9 341.2,187.6 339.9,188.2 339.8,188.2 338.3,188.9 336.9,189.5 335.5,190.2 334,190.9 332.6,191.6 331.1,192.3 330.1,192.9 329.7,193.1 328.2,193.9 326.8,194.7 325.4,195.5 323.9,196.4 322.5,197.3 321,198.3 320,199 319.6,199.3 318.1,200.4 316.7,201.6 315.2,202.9 313.8,204.1 312.4,205.3 310.9,206.4 310,206.9 309.5,207.3 308,208.1 306.6,208.8 305.1,209.5 303.7,210.1 303.6,210.1 302.3,210.7 300.8,211.2 299.4,211.5 299,211.5 297.9,209.1 296.6,206 296.5,206.1 295,208.5 293.6,211.9 293.3,212.4 292.1,214 290.7,215.7 289.4,216.9 289.3,217 287.8,218 286.4,218.7 284.9,219.4 284.3,219.7 283.5,220.1 282,220.7 280.6,221.2 279.2,221.8 277.7,222.5 277.2,222.7 276.3,223.4 274.8,224.9 274,225.8 273.4,226.7 271.9,229.3 270.8,231.1 270.5,231.5 269,233.2 267.6,234.6 Z" fill="#8a8a8a" fill-opacity="1.0"/>
<path d="M267.6,234 269,232.5 270.5,230.6 270.8,230.1 271.9,228.2 273.4,225.6 274,224.6 274.8,223.6 276.3,222.1 277.2,221.4 277.7,221.1 279.2,220.3 280.6,219.7 282,219.1 283.5,218.5 284.3,218.1 284.9,217.8 286.4,217.1 287.8,216.3 289.3,215.4 289.4,215.2 290.7,214 292.1,212.3 293.3,210.6 293.6,210.2 295,206.7 296.5,204.4 296.6,204.4 297.9,207.9 299,210.4 299.4,210.3 300.8,210 302.3,209.4 303.6,208.9 303.7,208.8 305.1,208.2 306.6,207.4 308,206.5 309.5,205.6 310,205.2 310.9,204.6 312.4,203.4 313.8,202.1 315.2,200.8 316.7,199.5 318.1,198.2 319.6,197 320,196.7 321,195.9 322.5,194.9 323.9,194 325.4,193 326.8,192.1 328.2,191.3 329.7,190.4 330.1,190.2 331.1,189.6 332.6,188.9 334,188.1 335.5,187.4 336.9,186.7 338.3,186 339.8,185.3 339.9,185.2 341.2,184.6 342.7,183.9 344.1,183.1 345.6,182.4 347,181.8 348.5,181.2 349.8,180.8 349.9,180.8 351.3,180.5 352.8,180.2 354.2,179.9 355.7,179.7 357.1,179.5 358.6,179.3 360,179.3 360.1,179.3 361.4,179.3 362.9,179.3 364.3,179.4 365.8,179.5 367.2,179.6 368.7,179.8 370.1,179.9 370.4,179.9 371.6,180 373,180.2 374.4,180.4 375.9,180.5 377.3,180.7 378.8,180.8 380,180.9 380.2,180.9 381.7,181 383.1,181 384.5,181 386,181.1 387.4,181.1 388.9,181.2 390.3,181.2 391.8,181.2 393.2,181.2 394.7,181.2 396.1,181.1 M396.1,186 394.7,186 393.2,185.9 391.8,185.9 390.3,185.8 388.9,185.7 387.4,185.6 386,185.5 384.5,185.4 383.1,185.3 381.7,185.2 380.2,185.1 380,185.1 378.8,185 377.3,184.8 375.9,184.6 374.4,184.4 373,184.1 371.6,183.9 370.4,183.8 370.1,183.8 368.7,183.6 367.2,183.4 365.8,183.2 364.3,183 362.9,182.9 361.4,182.8 360.1,182.8 360,182.8 358.6,182.8 357.1,182.9 355.7,183 354.2,183.2 352.8,183.5 351.3,183.7 349.9,184 349.8,184 348.5,184.4 347,184.9 345.6,185.5 344.1,186.2 342.7,186.9 341.2,187.6 339.9,188.2 339.8,188.2 338.3,188.9 336.9,189.5 335.5,190.2 334,190.9 332.6,191.6 331.1,192.3 330.1,192.9 329.7,193.1 328.2,193.9 326.8,194.7 325.4,195.5 323.9,196.4 322.5,197.3 321,198.3 320,199 319.6,199.3 318.1,200.4 316.7,201.6 315.2,202.9 313.8,204.1 312.4,205.3 310.9,206.4 310,206.9 309.5,207.3 308,208.1 306.6,208.8 305.1,209.5 303.7,210.1 303.6,210.1 302.3,210.7 300.8,211.2 299.4,211.5 299,211.5 297.9,209.1 296.6,206 296.5,206.1 295,208.5 293.6,211.9 293.3,212.4 292.1,214 290.7,215.7 289.4,216.9 289.3,217 287.8,218 286.4,218.7 284.9,219.4 284.3,219.7 283.5,220.1 282,220.7 280.6,221.2 279.2,221.8 277.7,222.5 277.2,222.7 276.3,223.4 274.8,224.9 274,225.8 273.4,226.7 271.9,229.3 270.8,231.1 270.5,231.5 269,233.2 267.6,234.6" fill="none" stroke="#2a2a2a" stroke-width="0.7"/>
<path d="M267.6,234.3 269,232.8 270.5,231 270.8,230.6 271.9,228.7 273.4,226.1 274,225.2 274.8,224.2 276.3,222.8 277.2,222 277.7,221.8 279.2,221 280.6,220.4 282,219.9 283.5,219.3 284.3,218.9 284.9,218.6 286.4,217.9 287.8,217.1 289.3,216.2 289.4,216.1 290.7,214.9 292.1,213.1 293.3,211.5 293.6,211 295,207.6 296.5,205.3 296.6,205.2 297.9,208.5 299,210.9 299.4,210.9 300.8,210.6 302.3,210 303.6,209.5 303.7,209.5 305.1,208.8 306.6,208.1 308,207.3 309.5,206.4 310,206.1 310.9,205.5 312.4,204.4 313.8,203.1 315.2,201.8 316.7,200.5 318.1,199.3 319.6,198.1 320,197.8 321,197.1 322.5,196.1 323.9,195.2 325.4,194.3 326.8,193.4 328.2,192.6 329.7,191.8 330.1,191.6 331.1,191 332.6,190.2 334,189.5 335.5,188.8 336.9,188.1 338.3,187.4 339.8,186.8 339.9,186.7 341.2,186.1 342.7,185.4 344.1,184.6 345.6,183.9 347,183.3 348.5,182.8 349.8,182.4 349.9,182.4 351.3,182.1 352.8,181.8 354.2,181.6 355.7,181.3 357.1,181.2 358.6,181.1 360,181 360.1,181 361.4,181 362.9,181.1 364.3,181.2 365.8,181.4 367.2,181.5 368.7,181.7 370.1,181.8 370.4,181.9 371.6,182 373,182.2 374.4,182.4 375.9,182.6 377.3,182.8 378.8,182.9 380,183 380.2,183 381.7,183.1 383.1,183.2 384.5,183.2 386,183.3 387.4,183.4 388.9,183.4 390.3,183.5 391.8,183.5 393.2,183.5 394.7,183.6 396.1,183.6" fill="none" stroke="#1a1a1a" stroke-width="0.8" stroke-linejoin="round"/>
<path d="M267.6,234 269,233 270.5,231.6 270.8,231.2 271.9,229.6 273.4,227.1 274,226.2 274.8,225.3 276.3,224 277.2,223.3 277.7,223 279.2,222.2 280.6,221.6 282,221 283.5,220.4 284.3,220.1 284.9,219.8 286.4,219.1 287.8,218.3 289.3,217.4 289.4,217.3 290.7,216.2 292.1,214.5 293.3,212.8 293.6,212.3 295,208.5 296.5,205.9 296.6,206 297.9,208.6 299,210.4 299.4,210.4 300.8,210.3 302.3,210.2 303.6,210.1 303.7,210.1 305.1,209.9 306.6,209.6 308,209.2 309.5,208.8 310,208.7 310.9,208.4 312.4,207.9 313.8,207.3 315.2,206.7 316.7,206.1 318.1,205.5 319,205.2 319.6,205 321,204.4 322.5,203.9 323.9,203.3 325.4,202.8 326.8,202.3 328.2,201.8 329.7,201.3 330.1,201.2 331.1,200.9 332.6,200.5 334,200.1 335.5,199.8 336.9,199.4 338.3,199 339.8,198.7 341.2,198.3 342.7,198 344.1,197.6 345.6,197.3 347,197 348.5,196.7 349.8,196.4 349.9,196.4 351.3,196.1 352.8,195.7 354.2,195.4 355.7,195.1 357.1,194.7 358.6,194.4 360,194.2 361.4,193.9 362.9,193.7 364.3,193.6 364.9,193.6 365.8,193.5 367.2,193.5 368.7,193.5 370.1,193.4 371.6,193.4 373,193.5 374.4,193.5 375.9,193.5 377.3,193.5 378.8,193.5 379.4,193.5 380.2,193.5 381.7,193.4 383.1,193.4 384.5,193.4 386,193.4 387.4,193.4 388.9,193.4 390.3,193.4 391.8,193.4 393.2,193.4 394.7,193.4 396.1,193.4 396.1,207.4 394.7,207.4 393.2,207.3 391.8,207.3 390.3,207.3 388.9,207.2 387.4,207.2 386,207.1 384.5,207 383.1,206.9 381.7,206.9 380.2,206.8 379.4,206.7 378.8,206.7 377.3,206.6 375.9,206.5 374.4,206.3 373,206.2 371.6,206 370.1,205.9 368.7,205.8 367.2,205.6 365.8,205.5 364.9,205.5 364.3,205.5 362.9,205.4 361.4,205.4 360,205.3 358.6,205.3 357.1,205.4 355.7,205.4 354.2,205.4 352.8,205.4 351.3,205.5 349.9,205.5 349.8,205.5 348.5,205.6 347,205.6 345.6,205.7 344.1,205.7 342.7,205.8 341.2,205.9 339.8,206 338.3,206.1 336.9,206.2 335.5,206.3 334,206.5 332.6,206.6 331.1,206.8 330.1,206.9 329.7,207 328.2,207.2 326.8,207.5 325.4,207.8 323.9,208.1 322.5,208.5 321,208.8 319.6,209.1 319,209.3 318.1,209.5 316.7,209.9 315.2,210.3 313.8,210.7 312.4,211.1 310.9,211.4 310,211.5 309.5,211.6 308,211.7 306.6,211.8 305.1,211.8 303.7,211.8 303.6,211.7 302.3,211.6 300.8,211.5 299.4,211.5 299,211.5 297.9,210.2 296.6,208.5 296.5,208.6 295,211.4 293.6,215.3 293.3,215.9 292.1,217.6 290.7,219.4 289.4,220.5 289.3,220.7 287.8,221.7 286.4,222.4 284.9,223.1 284.3,223.5 283.5,223.8 282,224.5 280.6,225 279.2,225.6 277.7,226.2 277.2,226.5 276.3,227 274.8,228.1 274,228.7 273.4,229.5 271.9,231.5 270.8,232.8 270.5,233.1 269,234 267.6,234.6 Z" fill="#ffa4a4" fill-opacity="1.0"/>
<path d="M267.6,234 269,233 270.5,231.6 270.8,231.2 271.9,229.6 273.4,227.1 274,226.2 274.8,225.3 276.3,224 277.2,223.3 277.7,223 279.2,222.2 280.6,221.6 282,221 283.5,220.4 284.3,220.1 284.9,219.8 286.4,219.1 287.8,218.3 289.3,217.4 289.4,217.3 290.7,216.2 292.1,214.5 293.3,212.8 293.6,212.3 295,208.5 296.5,205.9 296.6,206 297.9,208.6 299,210.4 299.4,210.4 300.8,210.3 302.3,210.2 303.6,210.1 303.7,210.1 305.1,209.9 306.6,209.6 308,209.2 309.5,208.8 310,208.7 310.9,208.4 312.4,207.9 313.8,207.3 315.2,206.7 316.7,206.1 318.1,205.5 319,205.2 319.6,205 321,204.4 322.5,203.9 323.9,203.3 325.4,202.8 326.8,202.3 328.2,201.8 329.7,201.3 330.1,201.2 331.1,200.9 332.6,200.5 334,200.1 335.5,199.8 336.9,199.4 338.3,199 339.8,198.7 341.2,198.3 342.7,198 344.1,197.6 345.6,197.3 347,197 348.5,196.7 349.8,196.4 349.9,196.4 351.3,196.1 352.8,195.7 354.2,195.4 355.7,195.1 357.1,194.7 358.6,194.4 360,194.2 361.4,193.9 362.9,193.7 364.3,193.6 364.9,193.6 365.8,193.5 367.2,193.5 368.7,193.5 370.1,193.4 371.6,193.4 373,193.5 374.4,193.5 375.9,193.5 377.3,193.5 378.8,193.5 379.4,193.5 380.2,193.5 381.7,193.4 383.1,193.4 384.5,193.4 386,193.4 387.4,193.4 388.9,193.4 390.3,193.4 391.8,193.4 393.2,193.4 394.7,193.4 396.1,193.4 M396.1,207.4 394.7,207.4 393.2,207.3 391.8,207.3 390.3,207.3 388.9,207.2 387.4,207.2 386,207.1 384.5,207 383.1,206.9 381.7,206.9 380.2,206.8 379.4,206.7 378.8,206.7 377.3,206.6 375.9,206.5 374.4,206.3 373,206.2 371.6,206 370.1,205.9 368.7,205.8 367.2,205.6 365.8,205.5 364.9,205.5 364.3,205.5 362.9,205.4 361.4,205.4 360,205.3 358.6,205.3 357.1,205.4 355.7,205.4 354.2,205.4 352.8,205.4 351.3,205.5 349.9,205.5 349.8,205.5 348.5,205.6 347,205.6 345.6,205.7 344.1,205.7 342.7,205.8 341.2,205.9 339.8,206 338.3,206.1 336.9,206.2 335.5,206.3 334,206.5 332.6,206.6 331.1,206.8 330.1,206.9 329.7,207 328.2,207.2 326.8,207.5 325.4,207.8 323.9,208.1 322.5,208.5 321,208.8 319.6,209.1 319,209.3 318.1,209.5 316.7,209.9 315.2,210.3 313.8,210.7 312.4,211.1 310.9,211.4 310,211.5 309.5,211.6 308,211.7 306.6,211.8 305.1,211.8 303.7,211.8 303.6,211.7 302.3,211.6 300.8,211.5 299.4,211.5 299,211.5 297.9,210.2 296.6,208.5 296.5,208.6 295,211.4 293.6,215.3 293.3,215.9 292.1,217.6 290.7,219.4 289.4,220.5 289.3,220.7 287.8,221.7 286.4,222.4 284.9,223.1 284.3,223.5 283.5,223.8 282,224.5 280.6,225 279.2,225.6 277.7,226.2 277.2,226.5 276.3,227 274.8,228.1 274,228.7 273.4,229.5 271.9,231.5 270.8,232.8 270.5,233.1 269,234 267.6,234.6" fill="none" stroke="#ff5858" stroke-width="0.6"/>
<path d="M267.6,234.3 269,233.5 270.5,232.3 270.8,232 271.9,230.6 273.4,228.3 274,227.5 274.8,226.7 276.3,225.5 277.2,224.9 277.7,224.6 279.2,223.9 280.6,223.3 282,222.7 283.5,222.1 284.3,221.8 284.9,221.5 286.4,220.8 287.8,220 289.3,219.1 289.4,218.9 290.7,217.8 292.1,216 293.3,214.4 293.6,213.8 295,210 296.5,207.3 296.6,207.2 297.9,209.4 299,210.9 299.4,210.9 300.8,210.9 302.3,210.9 303.6,210.9 303.7,210.9 305.1,210.9 306.6,210.7 308,210.4 309.5,210.2 310,210.1 310.9,209.9 312.4,209.5 313.8,209 315.2,208.5 316.7,208 318.1,207.5 319,207.2 319.6,207.1 321,206.6 322.5,206.2 323.9,205.7 325.4,205.3 326.8,204.9 328.2,204.5 329.7,204.2 330.1,204.1 331.1,203.9 332.6,203.6 334,203.3 335.5,203 336.9,202.8 338.3,202.6 339.8,202.3 341.2,202.1 342.7,201.9 344.1,201.7 345.6,201.5 347,201.3 348.5,201.1 349.8,201 349.9,200.9 351.3,200.8 352.8,200.6 354.2,200.4 355.7,200.2 357.1,200 358.6,199.9 360,199.8 361.4,199.6 362.9,199.6 364.3,199.5 364.9,199.5 365.8,199.5 367.2,199.6 368.7,199.6 370.1,199.7 371.6,199.7 373,199.8 374.4,199.9 375.9,200 377.3,200 378.8,200.1 379.4,200.1 380.2,200.1 381.7,200.2 383.1,200.2 384.5,200.2 386,200.2 387.4,200.3 388.9,200.3 390.3,200.3 391.8,200.3 393.2,200.4 394.7,200.4 396.1,200.4" fill="none" stroke="#ff1a1a" stroke-width="1.2" stroke-linejoin="round"/>
<path d="M267.6,234.3 269,233.3 270.5,231.8 270.8,231.5 271.9,229.7 273.4,226.9 274,226 274.8,225.2 276.3,224 277.2,223.5 277.7,223.2 279.2,222.6 280.6,222.1 282,221.7 283.5,221.2 284.2,220.9 284.9,220.6 286.4,219.8 287.8,218.9 289.2,218.1 289.3,218 290.7,217 292.1,215.9 293.3,214.9 293.6,214.7 295,213.4 296.3,211.5 296.5,210.5 297.3,205.2 297.9,209.7 298.3,212.1 299.4,212.6 300.8,212.9 301,212.9 302.3,213.3 303.7,213.8 305.1,214.3 306.6,214.7 308,215.1 309.5,215.4 310,215.5 310.9,215.6 312.4,215.8 313.8,216 315.2,216.2 316.7,216.3 318.1,216.3 319,216.3 319.6,216.3 321,216.3 322.5,216.3 323.9,216.3 325.4,216.3 326.8,216.3 328.2,216.3 329.7,216.3 331.1,216.3 332.6,216.3 334,216.3 335.5,216.3 336.9,216.3 338.3,216.3 339.8,216.3 341.2,216.3 342.7,216.3 344.1,216.3 345.6,216.3 347,216.3 348.5,216.2 349.9,216.2 351.3,216.2 352.8,216.2 354.2,216.2 355.7,216.2 357.1,216.2 357.6,216.2 358.6,216.2 360,216.2 361.4,216.2 362.9,216.2 364.3,216.2 365.8,216.2 367.2,216.1 368.7,216.1 370.1,216.1 371.6,216.1 373,216.1 374.4,216.1 375.9,216.1 377.3,216.1 378.8,216.1 380.2,216.1 381.7,216 383.1,216 384.5,216 386,216 387.4,216 388.9,216 390.3,216 391.8,216 393.2,215.9 394.7,215.9 396.1,215.9" fill="none" stroke="#bb48cc" stroke-width="1.9" stroke-linejoin="round"/>
<line x1="297.4" y1="205.8" x2="297.4" y2="217.2" stroke="#6a2a70" stroke-width="0.8" />
<path d="M399.2,184 L401,184 L401,201.5 L399.2,201.5" fill="none" stroke="#555" stroke-width="0.7"/>
<path d="M399.2,201.5 L401,201.5 L401,216.5 L399.2,216.5" fill="none" stroke="#555" stroke-width="0.7"/>
<path d="M413,184.5 L414.8,184.5 L414.8,216.8 L413,216.8" fill="none" stroke="#555" stroke-width="0.7"/>
<rect x="402.6" y="191.4" width="1.5" height="1.5" fill="#3a3a3a"/>
<rect x="405.5" y="191.4" width="1.5" height="1.5" fill="#3a3a3a"/>
<rect x="408.4" y="191.4" width="1.5" height="1.5" fill="#3a3a3a"/>
<rect x="411.3" y="191.4" width="1.5" height="1.5" fill="#3a3a3a"/>
<rect x="402.6" y="208.2" width="1.5" height="1.5" fill="#3a3a3a"/>
<rect x="405.5" y="208.2" width="1.5" height="1.5" fill="#3a3a3a"/>
<rect x="408.4" y="208.2" width="1.5" height="1.5" fill="#3a3a3a"/>
<rect x="411.3" y="208.2" width="1.5" height="1.5" fill="#3a3a3a"/>
<rect x="416.6" y="199.9" width="1.5" height="1.5" fill="#3a3a3a"/>
<rect x="419.5" y="199.9" width="1.5" height="1.5" fill="#3a3a3a"/>
<rect x="422.4" y="199.9" width="1.5" height="1.5" fill="#3a3a3a"/>
<rect x="425.3" y="199.9" width="1.5" height="1.5" fill="#3a3a3a"/>
<line x1="440.3" y1="190.2" x2="449.8" y2="190.2" stroke="#c850d8" stroke-width="1.0" />
<text x="454.8" y="192.3" font-size="7.15" font-weight="bold" fill="#222" stroke="#222" stroke-width="0.15">B10-B11</text>
<line x1="440.3" y1="199.8" x2="449.8" y2="199.8" stroke="#ff4848" stroke-width="1.0" />
<text x="454.8" y="201.9" font-size="7.15" font-weight="bold" fill="#222" stroke="#222" stroke-width="0.15">B11</text>
<line x1="440.3" y1="209.6" x2="449.8" y2="209.6" stroke="#444" stroke-width="1.0" />
<text x="454.8" y="211.7" font-size="7.15" font-weight="bold" fill="#222" stroke="#222" stroke-width="0.15">no treatment</text>
<text transform="translate(221.2 281.9) scale(0.93 1)" font-size="17.3" font-weight="bold" fill="#000" stroke="#000" stroke-width="0.45">D</text>
<line x1="265.4" y1="296" x2="265.4" y2="382.5" stroke="#3a3a3a" stroke-width="1.0" />
<line x1="265" y1="382.1" x2="395.4" y2="382.1" stroke="#3a3a3a" stroke-width="1.0" />
<line x1="263.4" y1="382.1" x2="265.4" y2="382.1" stroke="#3a3a3a" stroke-width="0.8" />
<text transform="translate(262.1 384.4) scale(0.85 1)" font-size="6.5" font-weight="bold" text-anchor="end" fill="#333" >0</text>
<line x1="263.4" y1="353.4" x2="265.4" y2="353.4" stroke="#3a3a3a" stroke-width="0.8" />
<text transform="translate(262.1 355.7) scale(0.85 1)" font-size="6.5" font-weight="bold" text-anchor="end" fill="#333" >1</text>
<line x1="263.4" y1="324.7" x2="265.4" y2="324.7" stroke="#3a3a3a" stroke-width="0.8" />
<text transform="translate(262.1 327) scale(0.85 1)" font-size="6.5" font-weight="bold" text-anchor="end" fill="#333" >2</text>
<line x1="263.4" y1="296" x2="265.4" y2="296" stroke="#3a3a3a" stroke-width="0.8" />
<text transform="translate(262.1 298.3) scale(0.85 1)" font-size="6.5" font-weight="bold" text-anchor="end" fill="#333" >3</text>
<line x1="265.4" y1="382.1" x2="265.4" y2="384.1" stroke="#3a3a3a" stroke-width="0.8" />
<text transform="translate(265.4 391.9) scale(0.93 1)" font-size="6.6" font-weight="bold" text-anchor="middle" fill="#333" >0</text>
<line x1="291.4" y1="382.1" x2="291.4" y2="384.1" stroke="#3a3a3a" stroke-width="0.8" />
<text transform="translate(291.4 391.9) scale(0.93 1)" font-size="6.6" font-weight="bold" text-anchor="middle" fill="#333" >20</text>
<line x1="317.4" y1="382.1" x2="317.4" y2="384.1" stroke="#3a3a3a" stroke-width="0.8" />
<text transform="translate(317.4 391.9) scale(0.93 1)" font-size="6.6" font-weight="bold" text-anchor="middle" fill="#333" >40</text>
<line x1="343.4" y1="382.1" x2="343.4" y2="384.1" stroke="#3a3a3a" stroke-width="0.8" />
<text transform="translate(343.4 391.9) scale(0.93 1)" font-size="6.6" font-weight="bold" text-anchor="middle" fill="#333" >60</text>
<line x1="369.4" y1="382.1" x2="369.4" y2="384.1" stroke="#3a3a3a" stroke-width="0.8" />
<text transform="translate(369.4 391.9) scale(0.93 1)" font-size="6.6" font-weight="bold" text-anchor="middle" fill="#333" >80</text>
<line x1="395.4" y1="382.1" x2="395.4" y2="384.1" stroke="#3a3a3a" stroke-width="0.8" />
<text transform="translate(395.4 391.9) scale(0.93 1)" font-size="6.6" font-weight="bold" text-anchor="middle" fill="#333" >100</text>
<text x="330.4" y="400.5" font-size="7.1" font-weight="bold" text-anchor="middle" fill="#222" >Time (hours)</text>
<text transform="translate(252 339.1) rotate(-90)" font-size="7.0" font-weight="bold" text-anchor="middle" fill="#222" >Normalized Cell Index</text>
<path d="M298.9,355.1 300.2,354.6 301.5,353.5 302.9,351.9 304.2,350.3 304.4,350.1 305.5,348.9 306.8,347.4 308.1,345.8 309.4,344.2 310.7,342.6 312,340.9 313.3,339.4 314.6,337.8 315.9,336.4 316.1,336.2 317.2,335.1 318.5,333.7 319.8,332.5 321.1,331.2 322.4,330 323.7,328.7 325,327.5 326.3,326.3 327.6,325.1 328.9,324 330,323 330.2,322.8 331.5,321.6 332.8,320.4 334.1,319.2 335.4,318 336.7,316.8 338,315.6 339.3,314.4 340.7,313.3 342,312.2 343.3,311.2 344.6,310.2 345.9,309.3 346,309.2 347.2,308.4 348.5,307.4 349.8,306.4 351.1,305.3 352.4,304.3 353.7,303.2 355,302.3 356.3,301.4 357.6,300.6 358.9,299.9 360,299.4 360.2,299.4 361.5,298.9 362.8,298.4 364.1,297.8 365.4,297.3 366.7,296.9 368,296.6 369.3,296.4 370.4,296.3 370.6,296.3 371.9,296.4 373.2,296.6 374.5,296.9 375.8,297.3 377.2,297.7 378.5,298.2 379.8,298.6 381.1,299.1 382.4,299.4 382.4,299.4 383.7,299.8 385,300.1 386.3,300.5 387.6,300.8 388.9,301.2 390.2,301.5 391.5,301.9 392.8,302.2 394.1,302.5 395.4,302.9 395.4,324.1 394.1,323.8 392.8,323.5 391.5,323.3 390.2,323 388.9,322.7 387.6,322.4 386.3,322.1 385,321.8 383.7,321.5 382.4,321.3 382.4,321.2 381.1,320.9 379.8,320.6 378.5,320.2 377.2,319.8 375.8,319.5 374.5,319.2 373.2,318.9 371.9,318.7 370.6,318.7 370.4,318.7 369.3,318.6 368,318.5 366.7,318.2 365.4,317.9 364.1,317.6 362.8,317.3 361.5,316.9 360.2,316.7 360,316.7 358.9,316.5 357.6,316.4 356.3,316.4 355,316.5 353.7,316.7 352.4,316.9 351.1,317.2 349.8,317.5 348.5,318 347.2,318.5 346,319 345.9,319 344.6,319.7 343.3,320.4 342,321.2 340.7,322.1 339.3,323 338,324 336.7,325 335.4,326.1 334.1,327.1 332.8,328.2 331.5,329.2 330.2,330.3 330,330.4 328.9,331.3 327.6,332.3 326.3,333.3 325,334.4 323.7,335.5 322.4,336.5 321.1,337.6 319.8,338.7 318.5,339.9 317.2,341 316.1,341.9 315.9,342.1 314.6,343.3 313.3,344.4 312,345.6 310.7,346.8 309.4,348 308.1,349.1 306.8,350.2 305.5,351.3 304.4,352.1 304.2,352.3 302.9,353.6 301.5,354.8 300.2,355.9 298.9,356.3 Z" fill="#8c8c8c" fill-opacity="1.0"/>
<path d="M298.9,355.4 300.2,355.1 301.5,354.3 302.9,353.3 304.2,352.3 304.4,352.1 305.5,351.3 306.8,350.2 308.1,349 309.4,347.8 310.7,346.5 312,345.2 313.3,343.9 314.6,342.7 315.9,341.5 316.1,341.3 317.2,340.5 318.5,339.4 319.8,338.4 321.1,337.4 322.4,336.5 323.7,335.5 325,334.6 326.3,333.6 327.6,332.6 328.9,331.6 330,330.7 330.2,330.6 331.5,329.5 332.8,328.4 334.1,327.2 335.4,326.1 336.7,324.9 338,323.7 339.3,322.5 340.7,321.3 342,320 343.3,318.7 344.6,317.5 345.9,316.2 346,316.1 347.2,315 348.5,313.7 349.8,312.4 351.1,311.1 352.4,309.8 353.7,308.5 355,307.3 356.3,306 357.6,304.8 358.9,303.6 360,302.6 360.2,302.5 361.5,301.3 362.8,300.1 364.1,298.9 365.4,297.8 366.7,296.9 368,296.1 369.3,296 370.4,296 370.6,296 371.9,296 373.2,296 374.5,296 375.8,296 377.2,296 378.5,296 379.8,296 381.1,296 382.4,296 382.4,296 383.7,296 385,296 386.3,296 387.6,296 388.9,296 390.2,296 391.5,296.1 392.8,296.2 394.1,296.4 395.4,296.6 395.4,318.4 394.1,318.5 392.8,318.6 391.5,318.6 390.2,318.7 388.9,318.7 387.6,318.8 386.3,318.8 385,318.8 383.7,318.8 382.4,318.9 382.4,318.9 381.1,318.9 379.8,318.9 378.5,318.9 377.2,318.9 375.8,319 374.5,319 373.2,319 371.9,319 370.6,318.9 370.4,318.9 369.3,318.9 368,319 366.7,319.1 365.4,319.3 364.1,319.6 362.8,319.9 361.5,320.1 360.2,320.3 360,320.4 358.9,320.6 357.6,320.9 356.3,321.3 355,321.8 353.7,322.3 352.4,322.9 351.1,323.4 349.8,324.1 348.5,324.7 347.2,325.3 346,325.8 345.9,325.9 344.6,326.5 343.3,327.2 342,327.9 340.7,328.6 339.3,329.4 338,330.1 336.7,331 335.4,331.8 334.1,332.6 332.8,333.5 331.5,334.3 330.2,335.2 330,335.3 328.9,336 327.6,336.8 326.3,337.6 325,338.4 323.7,339.2 322.4,340 321.1,340.9 319.8,341.7 318.5,342.6 317.2,343.4 316.1,344.2 315.9,344.4 314.6,345.4 313.3,346.4 312,347.5 310.7,348.6 309.4,349.8 308.1,350.8 306.8,351.9 305.5,352.8 304.4,353.5 304.2,353.7 302.9,354.6 301.5,355.6 300.2,356.3 298.9,356.6 Z" fill="#f2a0a0" fill-opacity="1.0"/>
<path d="M298.9,354.8 300.2,354.5 301.5,354.1 302.9,353.5 304.2,352.8 305.5,352.1 306.8,351.4 308.1,350.6 309.4,349.9 310.7,349.2 310.9,349.1 312,348.6 313.3,347.9 314.6,347.2 315.9,346.6 317.2,345.9 318.5,345.2 319.8,344.5 321.1,343.9 322.4,343.2 323.7,342.5 325,341.8 326.3,341.1 327.6,340.4 328.9,339.7 330,339.1 330.2,338.9 331.5,338.2 332.8,337.4 334.1,336.6 335.4,335.8 336.7,335 338,334.2 339.3,333.4 340.7,332.5 342,331.7 343.3,330.9 344.6,330.2 345.9,329.4 347.2,328.7 348.5,328 349.8,327.3 349.9,327.3 351.1,326.7 352.4,326.1 353.7,325.4 355,324.8 356.3,324.1 357.6,323.5 358.9,322.9 360.2,322.3 361.5,321.7 362.8,321.2 364.1,320.7 365.4,320.2 366.7,319.8 368,319.5 369.3,319.2 370.4,319 370.6,318.9 371.9,318.7 373.2,318.5 374.5,318.3 375.8,318.2 377.2,318 378.5,317.8 379.8,317.7 381.1,317.5 382.4,317.4 383.7,317.3 385,317.2 386.3,317.2 387.6,317.2 388.9,317.2 390.2,317.2 391.5,317.2 392.8,317.3 394.1,317.4 395.4,317.5 395.4,335.3 394.1,335.5 392.8,335.6 391.5,335.8 390.2,336 388.9,336.2 387.6,336.4 386.3,336.5 385,336.7 383.7,336.9 382.4,337.1 381.1,337.3 379.8,337.6 378.5,337.8 377.2,338 375.8,338.2 374.5,338.4 373.2,338.6 371.9,338.8 370.6,339 370.4,339.1 369.3,339.2 368,339.5 366.7,339.7 365.4,340 364.1,340.3 362.8,340.6 361.5,340.9 360.2,341.2 358.9,341.5 357.6,341.9 356.3,342.2 355,342.6 353.7,342.9 352.4,343.3 351.1,343.6 349.9,343.9 349.8,344 348.5,344.3 347.2,344.7 345.9,345.1 344.6,345.5 343.3,345.9 342,346.3 340.7,346.7 339.3,347.2 338,347.6 336.7,348 335.4,348.4 334.1,348.8 332.8,349.2 331.5,349.5 330.2,349.9 330,350 328.9,350.2 327.6,350.6 326.3,350.9 325,351.2 323.7,351.5 322.4,351.8 321.1,352.1 319.8,352.4 318.5,352.7 317.2,352.9 315.9,353.2 314.6,353.5 313.3,353.8 312,354 310.9,354.3 310.7,354.3 309.4,354.6 308.1,354.8 306.8,355.1 305.5,355.3 304.2,355.6 302.9,355.8 301.5,356.1 300.2,356.3 298.9,356.6 Z" fill="#d7a0e2" fill-opacity="1.0"/>
<path d="M298.9,355.1 300.2,354.6 301.5,353.5 302.9,351.9 304.2,350.3 304.4,350.1 305.5,348.9 306.8,347.4 308.1,345.8 309.4,344.2 310.7,342.6 312,340.9 313.3,339.4 314.6,337.8 315.9,336.4 316.1,336.2 317.2,335.1 318.5,333.7 319.8,332.5 321.1,331.2 322.4,330 323.7,328.7 325,327.5 326.3,326.3 327.6,325.1 328.9,324 330,323 330.2,322.8 331.5,321.6 332.8,320.4 334.1,319.2 335.4,318 336.7,316.8 338,315.6 339.3,314.4 340.7,313.3 342,312.2 343.3,311.2 344.6,310.2 345.9,309.3 346,309.2 347.2,308.4 348.5,307.4 349.8,306.4 351.1,305.3 352.4,304.3 353.7,303.2 355,302.3 356.3,301.4 357.6,300.6 358.9,299.9 360,299.4 360.2,299.4 361.5,298.9 362.8,298.4 364.1,297.8 365.4,297.3 366.7,296.9 368,296.6 369.3,296.4 370.4,296.3 370.6,296.3 371.9,296.4 373.2,296.6 374.5,296.9 375.8,297.3 377.2,297.7 378.5,298.2 379.8,298.6 381.1,299.1 382.4,299.4 382.4,299.4 383.7,299.8 385,300.1 386.3,300.5 387.6,300.8 388.9,301.2 390.2,301.5 391.5,301.9 392.8,302.2 394.1,302.5 395.4,302.9 M395.4,324.1 394.1,323.8 392.8,323.5 391.5,323.3 390.2,323 388.9,322.7 387.6,322.4 386.3,322.1 385,321.8 383.7,321.5 382.4,321.3 382.4,321.2 381.1,320.9 379.8,320.6 378.5,320.2 377.2,319.8 375.8,319.5 374.5,319.2 373.2,318.9 371.9,318.7 370.6,318.7 370.4,318.7 369.3,318.6 368,318.5 366.7,318.2 365.4,317.9 364.1,317.6 362.8,317.3 361.5,316.9 360.2,316.7 360,316.7 358.9,316.5 357.6,316.4 356.3,316.4 355,316.5 353.7,316.7 352.4,316.9 351.1,317.2 349.8,317.5 348.5,318 347.2,318.5 346,319 345.9,319 344.6,319.7 343.3,320.4 342,321.2 340.7,322.1 339.3,323 338,324 336.7,325 335.4,326.1 334.1,327.1 332.8,328.2 331.5,329.2 330.2,330.3 330,330.4 328.9,331.3 327.6,332.3 326.3,333.3 325,334.4 323.7,335.5 322.4,336.5 321.1,337.6 319.8,338.7 318.5,339.9 317.2,341 316.1,341.9 315.9,342.1 314.6,343.3 313.3,344.4 312,345.6 310.7,346.8 309.4,348 308.1,349.1 306.8,350.2 305.5,351.3 304.4,352.1 304.2,352.3 302.9,353.6 301.5,354.8 300.2,355.9 298.9,356.3" fill="none" stroke="#333" stroke-width="0.6"/>
<path d="M298.9,355.7 300.2,355.3 301.5,354.2 302.9,352.7 304.2,351.3 304.4,351.1 305.5,350.1 306.8,348.8 308.1,347.5 309.4,346.1 310.7,344.7 312,343.3 313.3,341.9 314.6,340.5 315.9,339.3 316.1,339.1 317.2,338 318.5,336.8 319.8,335.6 321.1,334.4 322.4,333.3 323.7,332.1 325,331 326.3,329.8 327.6,328.7 328.9,327.6 330,326.7 330.2,326.5 331.5,325.4 332.8,324.3 334.1,323.2 335.4,322 336.7,320.9 338,319.8 339.3,318.7 340.7,317.7 342,316.7 343.3,315.8 344.6,314.9 345.9,314.2 346,314.1 347.2,313.4 348.5,312.7 349.8,312 351.1,311.3 352.4,310.6 353.7,309.9 355,309.4 356.3,308.9 357.6,308.5 358.9,308.2 360,308.1 360.2,308 361.5,307.9 362.8,307.8 364.1,307.7 365.4,307.6 366.7,307.6 368,307.5 369.3,307.5 370.4,307.5 370.6,307.5 371.9,307.6 373.2,307.8 374.5,308 375.8,308.4 377.2,308.8 378.5,309.2 379.8,309.6 381.1,310 382.4,310.3 382.4,310.4 383.7,310.7 385,311 386.3,311.3 387.6,311.6 388.9,311.9 390.2,312.2 391.5,312.6 392.8,312.9 394.1,313.2 395.4,313.5" fill="none" stroke="#1a1a1a" stroke-width="0.9" stroke-linejoin="round"/>
<path d="M298.9,355.4 300.2,355.1 301.5,354.3 302.9,353.3 304.2,352.3 304.4,352.1 305.5,351.3 306.8,350.2 308.1,349 309.4,347.8 310.7,346.5 312,345.2 313.3,343.9 314.6,342.7 315.9,341.5 316.1,341.3 317.2,340.5 318.5,339.4 319.8,338.4 321.1,337.4 322.4,336.5 323.7,335.5 325,334.6 326.3,333.6 327.6,332.6 328.9,331.6 330,330.7 330.2,330.6 331.5,329.5 332.8,328.4 334.1,327.2 335.4,326.1 336.7,324.9 338,323.7 339.3,322.5 340.7,321.3 342,320 343.3,318.7 344.6,317.5 345.9,316.2 346,316.1 347.2,315 348.5,313.7 349.8,312.4 351.1,311.1 352.4,309.8 353.7,308.5 355,307.3 356.3,306 357.6,304.8 358.9,303.6 360,302.6 360.2,302.5 361.5,301.3 362.8,300.1 364.1,298.9 365.4,297.8 366.7,296.9 368,296.1 M391.5,296.1 392.8,296.2 394.1,296.4 395.4,296.6 M395.4,318.4 394.1,318.5 392.8,318.6 391.5,318.6 390.2,318.7 388.9,318.7 387.6,318.8 386.3,318.8 385,318.8 383.7,318.8 382.4,318.9 382.4,318.9 381.1,318.9 379.8,318.9 378.5,318.9 377.2,318.9 375.8,319 374.5,319 373.2,319 371.9,319 370.6,318.9 370.4,318.9 369.3,318.9 368,319 366.7,319.1 365.4,319.3 364.1,319.6 362.8,319.9 361.5,320.1 360.2,320.3 360,320.4 358.9,320.6 357.6,320.9 356.3,321.3 355,321.8 353.7,322.3 352.4,322.9 351.1,323.4 349.8,324.1 348.5,324.7 347.2,325.3 346,325.8 345.9,325.9 344.6,326.5 343.3,327.2 342,327.9 340.7,328.6 339.3,329.4 338,330.1 336.7,331 335.4,331.8 334.1,332.6 332.8,333.5 331.5,334.3 330.2,335.2 330,335.3 328.9,336 327.6,336.8 326.3,337.6 325,338.4 323.7,339.2 322.4,340 321.1,340.9 319.8,341.7 318.5,342.6 317.2,343.4 316.1,344.2 315.9,344.4 314.6,345.4 313.3,346.4 312,347.5 310.7,348.6 309.4,349.8 308.1,350.8 306.8,351.9 305.5,352.8 304.4,353.5 304.2,353.7 302.9,354.6 301.5,355.6 300.2,356.3 298.9,356.6" fill="none" stroke="#ff2a2a" stroke-width="0.6"/>
<path d="M298.9,356 300.2,355.7 301.5,355 302.9,354 304.2,353 304.4,352.8 305.5,352.1 306.8,351 308.1,349.9 309.4,348.8 310.7,347.6 312,346.3 313.3,345.2 314.6,344 315.9,342.9 316.1,342.8 317.2,342 318.5,341 319.8,340.1 321.1,339.2 322.4,338.3 323.7,337.4 325,336.5 326.3,335.6 327.6,334.7 328.9,333.8 330,333 330.2,332.9 331.5,331.9 332.8,330.9 334.1,329.9 335.4,328.9 336.7,327.9 338,326.9 339.3,325.9 340.7,324.9 342,323.9 343.3,323 344.6,322 345.9,321.1 346,321 347.2,320.1 348.5,319.2 349.8,318.2 351.1,317.3 352.4,316.3 353.7,315.4 355,314.5 356.3,313.7 357.6,312.9 358.9,312.1 360,311.5 360.2,311.4 361.5,310.7 362.8,310 364.1,309.3 365.4,308.6 366.7,308 368,307.6 369.3,307.3 370.4,307.2 370.6,307.2 371.9,307.2 373.2,307.2 374.5,307.2 375.8,307.2 377.2,307.2 378.5,307.2 379.8,307.2 381.1,307.2 382.4,307.2 382.4,307.2 383.7,307.2 385,307.2 386.3,307.2 387.6,307.3 388.9,307.3 390.2,307.3 391.5,307.4 392.8,307.4 394.1,307.4 395.4,307.5" fill="none" stroke="#ff0000" stroke-width="1.0" stroke-linejoin="round"/>
<path d="M298.9,354.8 300.2,354.5 301.5,354.1 302.9,353.5 304.2,352.8 305.5,352.1 306.8,351.4 308.1,350.6 309.4,349.9 310.7,349.2 310.9,349.1 312,348.6 313.3,347.9 314.6,347.2 315.9,346.6 317.2,345.9 318.5,345.2 319.8,344.5 321.1,343.9 322.4,343.2 323.7,342.5 325,341.8 326.3,341.1 327.6,340.4 328.9,339.7 330,339.1 330.2,338.9 331.5,338.2 332.8,337.4 334.1,336.6 335.4,335.8 336.7,335 338,334.2 339.3,333.4 340.7,332.5 342,331.7 343.3,330.9 344.6,330.2 345.9,329.4 347.2,328.7 348.5,328 349.8,327.3 349.9,327.3 351.1,326.7 352.4,326.1 353.7,325.4 355,324.8 356.3,324.1 357.6,323.5 358.9,322.9 360.2,322.3 361.5,321.7 362.8,321.2 364.1,320.7 365.4,320.2 366.7,319.8 368,319.5 369.3,319.2 370.4,319 370.6,318.9 371.9,318.7 373.2,318.5 374.5,318.3 375.8,318.2 377.2,318 378.5,317.8 379.8,317.7 381.1,317.5 382.4,317.4 383.7,317.3 385,317.2 386.3,317.2 387.6,317.2 388.9,317.2 390.2,317.2 391.5,317.2 392.8,317.3 394.1,317.4 395.4,317.5 M395.4,335.3 394.1,335.5 392.8,335.6 391.5,335.8 390.2,336 388.9,336.2 387.6,336.4 386.3,336.5 385,336.7 383.7,336.9 382.4,337.1 381.1,337.3 379.8,337.6 378.5,337.8 377.2,338 375.8,338.2 374.5,338.4 373.2,338.6 371.9,338.8 370.6,339 370.4,339.1 369.3,339.2 368,339.5 366.7,339.7 365.4,340 364.1,340.3 362.8,340.6 361.5,340.9 360.2,341.2 358.9,341.5 357.6,341.9 356.3,342.2 355,342.6 353.7,342.9 352.4,343.3 351.1,343.6 349.9,343.9 349.8,344 348.5,344.3 347.2,344.7 345.9,345.1 344.6,345.5 343.3,345.9 342,346.3 340.7,346.7 339.3,347.2 338,347.6 336.7,348 335.4,348.4 334.1,348.8 332.8,349.2 331.5,349.5 330.2,349.9 330,350 328.9,350.2 327.6,350.6 326.3,350.9 325,351.2 323.7,351.5 322.4,351.8 321.1,352.1 319.8,352.4 318.5,352.7 317.2,352.9 315.9,353.2 314.6,353.5 313.3,353.8 312,354 310.9,354.3 310.7,354.3 309.4,354.6 308.1,354.8 306.8,355.1 305.5,355.3 304.2,355.6 302.9,355.8 301.5,356.1 300.2,356.3 298.9,356.6" fill="none" stroke="#b030c8" stroke-width="0.6"/>
<path d="M298.9,355.7 300.2,355.4 301.5,355.1 302.9,354.7 304.2,354.2 305.5,353.7 306.8,353.2 308.1,352.7 309.4,352.2 310.7,351.8 310.9,351.7 312,351.3 313.3,350.8 314.6,350.4 315.9,349.9 317.2,349.4 318.5,348.9 319.8,348.5 321.1,348 322.4,347.5 323.7,347 325,346.5 326.3,346 327.6,345.5 328.9,344.9 330,344.5 330.2,344.4 331.5,343.9 332.8,343.3 334.1,342.7 335.4,342.1 336.7,341.5 338,340.9 339.3,340.3 340.7,339.6 342,339 343.3,338.4 344.6,337.8 345.9,337.2 347.2,336.7 348.5,336.2 349.8,335.7 349.9,335.6 351.1,335.2 352.4,334.7 353.7,334.2 355,333.7 356.3,333.2 357.6,332.7 358.9,332.2 360.2,331.7 361.5,331.3 362.8,330.9 364.1,330.5 365.4,330.1 366.7,329.8 368,329.5 369.3,329.2 370.4,329 370.6,329 371.9,328.8 373.2,328.6 374.5,328.4 375.8,328.2 377.2,328 378.5,327.8 379.8,327.6 381.1,327.4 382.4,327.3 383.7,327.1 385,327 386.3,326.9 387.6,326.8 388.9,326.7 390.2,326.6 391.5,326.5 392.8,326.5 394.1,326.4 395.4,326.4" fill="none" stroke="#a800c0" stroke-width="1.0" stroke-linejoin="round"/>
<path d="M265.4,381.8 266.8,379.2 268.2,376.6 269.2,374.9 269.6,374.1 271,371.3 272.4,368.6 273.8,366.8 273.8,366.7 275.2,365.8 276.6,365.2 278,364.6 279.4,364 280,363.7 280.8,363.3 282.2,362.5 283.6,361.7 285,360.8 285.9,360 286.4,359.6 287.8,358.1 289.2,356.4 290.1,355.1 290.6,354.4 292,351.8 293.3,350 293.6,350 294.7,350.6 296.1,352.4 297.5,354.3 298.9,355.1 298.9,356.3 297.5,355.6 296.1,354 294.7,352.6 293.6,352.2 293.3,352.3 292,354.1 290.6,356.7 290.1,357.4 289.2,358.7 287.8,360.4 286.4,361.9 285.9,362.3 285,363.1 283.6,364 282.2,364.8 280.8,365.6 280,366 279.4,366.3 278,366.9 276.6,367.4 275.2,368 273.8,368.8 273.8,368.8 272.4,370.4 271,372.9 269.6,375.4 269.2,376.1 268.2,377.7 266.8,380 265.4,382.4 Z" fill="#555" fill-opacity="1.0"/>
<path d="M265.4,381.8 266.8,379.2 268.2,376.6 269.2,374.9 269.6,374.1 271,371.3 272.4,368.6 273.8,366.8 273.8,366.7 275.2,365.8 276.6,365.2 278,364.6 279.4,364 280,363.7 280.8,363.3 282.2,362.5 283.6,361.7 285,360.8 285.9,360 286.4,359.6 287.8,358.1 289.2,356.4 290.1,355.1 290.6,354.4 292,351.8 293.3,350 293.6,350 294.7,350.6 296.1,352.4 297.5,354.3 298.9,355.1 M298.9,356.3 297.5,355.6 296.1,354 294.7,352.6 293.6,352.2 293.3,352.3 292,354.1 290.6,356.7 290.1,357.4 289.2,358.7 287.8,360.4 286.4,361.9 285.9,362.3 285,363.1 283.6,364 282.2,364.8 280.8,365.6 280,366 279.4,366.3 278,366.9 276.6,367.4 275.2,368 273.8,368.8 273.8,368.8 272.4,370.4 271,372.9 269.6,375.4 269.2,376.1 268.2,377.7 266.8,380 265.4,382.4" fill="none" stroke="#222" stroke-width="0.6"/>
<path d="M265.4,382.1 266.8,379.6 268.2,377.2 269.2,375.5 269.6,374.8 271,372.1 272.4,369.5 273.8,367.8 273.8,367.8 275.2,366.9 276.6,366.3 278,365.7 279.4,365.2 280,364.9 280.8,364.4 282.2,363.7 283.6,362.9 285,361.9 285.9,361.1 286.4,360.8 287.8,359.3 289.2,357.5 290.1,356.3 290.6,355.6 292,352.9 293.3,351.2 293.6,351.1 294.7,351.6 296.1,353.2 297.5,354.9 298.9,355.7" fill="none" stroke="#1a1a1a" stroke-width="0.9" stroke-linejoin="round"/>
<path d="M265.4,381.8 266.8,379.6 268.2,377.4 269.2,375.9 269.6,375.2 271,372.7 272.4,370.3 273.8,368.6 273.8,368.5 275.2,367.6 276.6,367 278,366.4 279.4,365.8 280,365.5 280.8,365.1 282.2,364.3 283.6,363.5 285,362.5 285.9,361.7 286.4,361.4 287.8,359.9 289.2,358.1 290.1,356.8 290.6,356.2 292,353.5 293.3,351.7 293.6,351.7 294.7,352 294.8,352 296.1,353.1 297.5,354.6 298.9,355.4 298.9,356.6 297.5,355.9 296.1,354.5 294.8,353.6 294.7,353.6 293.6,353.4 293.3,353.4 292,355.2 290.6,357.9 290.1,358.6 289.2,359.8 287.8,361.6 286.4,363.1 285.9,363.4 285,364.2 283.6,365.1 282.2,365.9 280.8,366.7 280,367.1 279.4,367.4 278,368 276.6,368.5 275.2,369.1 273.8,369.9 273.8,369.9 272.4,371.5 271,373.8 269.6,376.2 269.2,376.9 268.2,378.3 266.8,380.3 265.4,382.4 Z" fill="#ff8080" fill-opacity="1.0"/>
<path d="M265.4,381.8 266.8,379.6 268.2,377.4 269.2,375.9 269.6,375.2 271,372.7 272.4,370.3 273.8,368.6 273.8,368.5 275.2,367.6 276.6,367 278,366.4 279.4,365.8 280,365.5 280.8,365.1 282.2,364.3 283.6,363.5 285,362.5 285.9,361.7 286.4,361.4 287.8,359.9 289.2,358.1 290.1,356.8 290.6,356.2 292,353.5 293.3,351.7 293.6,351.7 294.7,352 294.8,352 296.1,353.1 297.5,354.6 298.9,355.4 M298.9,356.6 297.5,355.9 296.1,354.5 294.8,353.6 294.7,353.6 293.6,353.4 293.3,353.4 292,355.2 290.6,357.9 290.1,358.6 289.2,359.8 287.8,361.6 286.4,363.1 285.9,363.4 285,364.2 283.6,365.1 282.2,365.9 280.8,366.7 280,367.1 279.4,367.4 278,368 276.6,368.5 275.2,369.1 273.8,369.9 273.8,369.9 272.4,371.5 271,373.8 269.6,376.2 269.2,376.9 268.2,378.3 266.8,380.3 265.4,382.4" fill="none" stroke="#ff2a2a" stroke-width="0.6"/>
<path d="M265.4,382.1 266.8,380 268.2,377.8 269.2,376.4 269.6,375.7 271,373.2 272.4,370.9 273.8,369.2 273.8,369.2 275.2,368.4 276.6,367.7 278,367.2 279.4,366.6 280,366.3 280.8,365.9 282.2,365.1 283.6,364.3 285,363.3 285.9,362.6 286.4,362.2 287.8,360.7 289.2,358.9 290.1,357.7 290.6,357 292,354.4 293.3,352.6 293.6,352.5 294.7,352.8 294.8,352.8 296.1,353.8 297.5,355.3 298.9,356" fill="none" stroke="#ff0000" stroke-width="1.0" stroke-linejoin="round"/>
<path d="M265.4,381.8 266.8,379.5 268.2,377 269.2,375.3 269.6,374.6 271,371.8 272.4,369.3 273.8,367.5 273.8,367.5 275.2,366.6 276.6,365.9 278,365.3 279.4,364.7 280,364.4 280.8,364 282.2,363.4 283.6,362.8 285,362.1 285.9,361.4 286.4,361.1 287.8,359.7 289.2,358.1 290.1,357 290.6,356.4 292,354.4 293.3,352.6 293.6,352.3 294.1,351.8 294.7,354.5 294.9,354.8 296.1,355 297.5,355 298.9,354.8 298.9,356.6 297.5,356.9 296.1,357.4 294.9,357.7 294.7,357.4 294.1,355 293.6,355.7 293.3,356 292,358.3 290.6,360.6 290.1,361.3 289.2,362.7 287.8,364.6 286.4,366.2 285.9,366.6 285,367.3 283.6,368.1 282.2,368.8 280.8,369.5 280,370 279.4,370.3 278,370.9 276.6,371.6 275.2,372.3 273.8,373.2 273.8,373.3 272.4,374.8 271,376.8 269.6,378.6 269.2,379.1 268.2,380 266.8,381.3 265.4,382.4 Z" fill="#c850d0" fill-opacity="1.0"/>
<path d="M265.4,381.8 266.8,379.5 268.2,377 269.2,375.3 269.6,374.6 271,371.8 272.4,369.3 273.8,367.5 273.8,367.5 275.2,366.6 276.6,365.9 278,365.3 279.4,364.7 280,364.4 280.8,364 282.2,363.4 283.6,362.8 285,362.1 285.9,361.4 286.4,361.1 287.8,359.7 289.2,358.1 290.1,357 290.6,356.4 292,354.4 293.3,352.6 293.6,352.3 294.1,351.8 294.7,354.5 294.9,354.8 296.1,355 297.5,355 298.9,354.8 M298.9,356.6 297.5,356.9 296.1,357.4 294.9,357.7 294.7,357.4 294.1,355 293.6,355.7 293.3,356 292,358.3 290.6,360.6 290.1,361.3 289.2,362.7 287.8,364.6 286.4,366.2 285.9,366.6 285,367.3 283.6,368.1 282.2,368.8 280.8,369.5 280,370 279.4,370.3 278,370.9 276.6,371.6 275.2,372.3 273.8,373.2 273.8,373.3 272.4,374.8 271,376.8 269.6,378.6 269.2,379.1 268.2,380 266.8,381.3 265.4,382.4" fill="none" stroke="#b020c0" stroke-width="0.6"/>
<path d="M265.4,382.1 266.8,380.4 268.2,378.5 269.2,377.2 269.6,376.6 271,374.3 272.4,372 273.8,370.4 273.8,370.3 275.2,369.4 276.6,368.7 278,368.1 279.4,367.5 280,367.2 280.8,366.8 282.2,366.1 283.6,365.5 285,364.7 285.9,364 286.4,363.7 287.8,362.2 289.2,360.4 290.1,359.1 290.6,358.5 292,356.4 293.3,354.3 293.6,354 294.1,353.4 294.7,355.9 294.9,356.3 296.1,356.2 297.5,356 298.9,355.7" fill="none" stroke="#b000b8" stroke-width="1.1" stroke-linejoin="round"/>
<line x1="294.3" y1="353.4" x2="294.3" y2="363.7" stroke="#a020b8" stroke-width="0.8" />
<path d="M398.2,307.2 L400,307.2 L400,316.8 L398.2,316.8" fill="none" stroke="#555" stroke-width="0.7"/>
<path d="M398.2,316.8 L400,316.8 L400,327.4 L398.2,327.4" fill="none" stroke="#555" stroke-width="0.7"/>
<path d="M412.8,306.9 L414.6,306.9 L414.6,327.4 L412.8,327.4" fill="none" stroke="#555" stroke-width="0.7"/>
<text x="401.2" y="313.2" font-size="6.7" fill="#222" stroke="#222" stroke-width="0.15">NS</text>
<text x="401.2" y="323.2" font-size="6.7" fill="#222" stroke="#222" stroke-width="0.15">NS</text>
<text x="415.8" y="320.1" font-size="6.7" fill="#222" stroke="#222" stroke-width="0.15">NS</text>
<line x1="441.8" y1="304.3" x2="451.3" y2="304.3" stroke="#c850d8" stroke-width="1.0" />
<text x="456.7" y="306.4" font-size="7.15" font-weight="bold" fill="#222" stroke="#222" stroke-width="0.15">B10-B11</text>
<line x1="441.8" y1="314.1" x2="451.3" y2="314.1" stroke="#ff4848" stroke-width="1.0" />
<text x="456.7" y="316.2" font-size="7.15" font-weight="bold" fill="#222" stroke="#222" stroke-width="0.15">B11</text>
<line x1="441.8" y1="324.8" x2="451.3" y2="324.8" stroke="#444" stroke-width="1.0" />
<text x="456.7" y="326.9" font-size="7.15" font-weight="bold" fill="#222" stroke="#222" stroke-width="0.15">no treatment</text>
</svg>
</body></html>
